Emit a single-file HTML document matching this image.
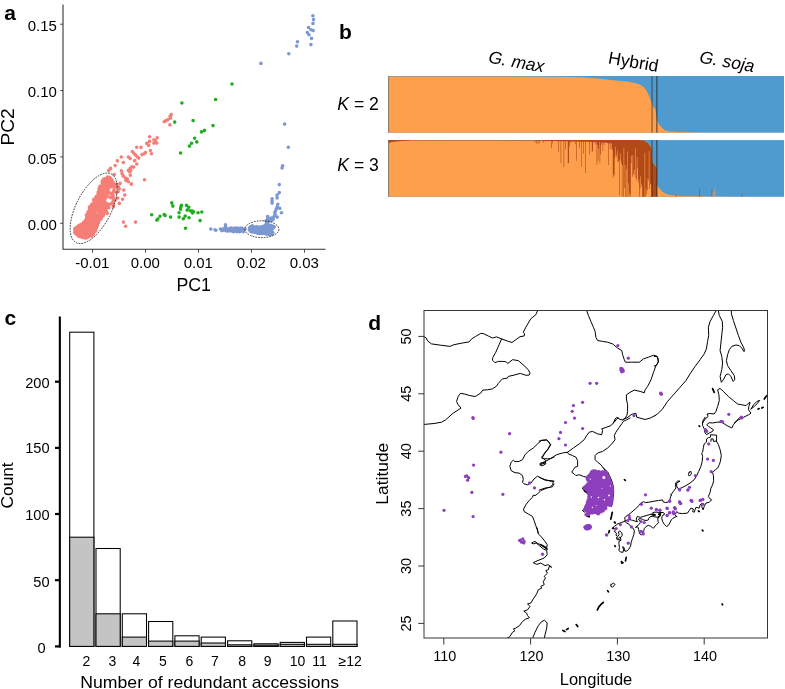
<!DOCTYPE html>
<html lang="en"><head><meta charset="utf-8"><title>Figure</title>
<style>html,body{margin:0;padding:0;background:#fff}body{width:785px;height:689px;overflow:hidden}svg{display:block}text{font-family:"Liberation Sans", sans-serif;fill:#000}</style>
</head><body>
<svg width="785" height="689" viewBox="0 0 785 689">
<rect width="785" height="689" fill="#fff"/>
<g id="panel-a">
<text x="4.3" y="20.2" font-size="21" font-weight="bold">a</text>
<path d="M63.0 4.4V249.3H325.5" fill="none" stroke="#333" stroke-width="1.1"/>
<path d="M60.2 223.3H63" stroke="#333" stroke-width="0.9"/>
<text x="56.9" y="229.9" font-size="15" text-anchor="end">0.00</text>
<path d="M60.2 156.9H63" stroke="#333" stroke-width="0.9"/>
<text x="56.9" y="163.5" font-size="15" text-anchor="end">0.05</text>
<path d="M60.2 90.6H63" stroke="#333" stroke-width="0.9"/>
<text x="56.9" y="97.2" font-size="15" text-anchor="end">0.10</text>
<path d="M60.2 24.2H63" stroke="#333" stroke-width="0.9"/>
<text x="56.9" y="30.8" font-size="15" text-anchor="end">0.15</text>
<path d="M92.5 249.3V252.7" stroke="#333" stroke-width="0.9"/>
<text x="92.3" y="267.5" font-size="15" text-anchor="middle">-0.01</text>
<path d="M145.5 249.3V252.7" stroke="#333" stroke-width="0.9"/>
<text x="145.3" y="267.5" font-size="15" text-anchor="middle">0.00</text>
<path d="M198.5 249.3V252.7" stroke="#333" stroke-width="0.9"/>
<text x="198.3" y="267.5" font-size="15" text-anchor="middle">0.01</text>
<path d="M251.5 249.3V252.7" stroke="#333" stroke-width="0.9"/>
<text x="251.3" y="267.5" font-size="15" text-anchor="middle">0.02</text>
<path d="M304.5 249.3V252.7" stroke="#333" stroke-width="0.9"/>
<text x="304.3" y="267.5" font-size="15" text-anchor="middle">0.03</text>
<text x="193.7" y="291.3" font-size="17.8" text-anchor="middle">PC1</text>
<text transform="translate(14.0 126.9) rotate(-90)" font-size="19.2" text-anchor="middle">PC2</text>
<path d="M94.9 199.3h0M90.7 227.8h0M96.4 201.2h0M111.6 179.6h0M107.1 194.6h0M86.3 227.1h0M98.8 199.7h0M100.4 203.1h0M94.5 230.8h0M102.2 194.5h0M90.4 223.5h0M103.5 212.1h0M100.9 213.4h0M96.6 204.9h0M92.6 217.7h0M105.7 194.3h0M89.2 218.0h0M89.4 230.5h0M95.4 231.3h0M88.2 231.3h0M88.6 211.7h0M94.1 214.9h0M75.6 230.7h0M92.2 206.6h0M106.0 186.7h0M94.8 224.8h0M103.0 206.2h0M81.4 225.4h0M87.2 226.2h0M89.8 235.2h0M102.0 187.2h0M80.1 227.8h0M91.0 230.5h0M105.9 189.8h0M79.6 232.9h0M90.5 233.4h0M93.6 209.6h0M102.1 211.1h0M95.6 225.1h0M103.8 208.1h0M95.9 223.7h0M97.8 207.9h0M94.0 219.5h0M91.7 209.7h0M92.7 234.9h0M106.4 185.2h0M82.9 235.5h0M89.7 206.8h0M95.6 203.9h0M98.2 208.4h0M90.6 233.0h0M105.6 192.7h0M80.3 233.5h0M96.2 220.0h0M100.7 203.0h0M77.3 234.7h0M77.8 229.6h0M77.1 230.0h0M103.4 194.6h0M102.4 210.8h0M110.0 183.3h0M93.3 228.3h0M89.5 208.0h0M87.6 228.1h0M101.4 216.0h0M77.8 228.7h0M84.6 236.1h0M83.9 236.3h0M92.6 207.8h0M96.8 209.4h0M102.0 216.4h0M76.3 228.3h0M93.7 228.3h0M100.5 219.5h0M78.6 228.3h0M95.7 215.5h0M98.3 218.8h0M93.6 209.8h0M102.5 192.3h0M102.2 189.4h0M92.7 218.9h0M103.6 214.8h0M102.7 195.5h0M100.0 219.5h0M100.2 194.7h0M94.2 205.4h0M108.4 189.0h0M82.5 235.1h0M110.7 184.9h0M105.6 208.1h0M83.4 232.2h0M86.6 228.6h0M106.4 184.2h0M78.5 228.3h0M85.4 234.5h0M88.7 235.8h0M102.3 204.6h0M109.7 184.6h0M85.9 222.4h0M99.4 195.3h0M95.7 201.1h0M82.5 232.7h0M103.0 202.2h0M90.3 209.1h0M111.2 184.5h0M93.7 215.6h0M107.3 190.1h0M107.6 178.1h0M89.4 233.9h0M94.4 218.8h0M91.9 210.8h0M83.4 233.5h0M99.0 195.5h0M98.7 219.9h0M94.5 212.7h0M93.5 218.4h0M100.4 189.0h0M105.6 191.0h0M83.0 223.7h0M85.8 235.5h0M82.7 236.9h0M81.6 234.5h0M99.8 200.1h0M110.8 184.4h0M88.1 227.5h0M88.7 233.5h0M108.6 178.6h0M90.2 226.8h0M103.6 179.3h0M110.3 178.2h0M90.9 207.2h0M97.6 197.0h0M104.2 181.6h0M86.9 237.2h0M101.5 204.3h0M98.1 218.3h0M106.4 194.9h0M96.1 199.8h0M102.5 189.0h0M80.4 231.3h0M96.5 196.9h0M92.6 227.3h0M84.4 224.7h0M110.4 183.3h0M97.2 215.0h0M99.3 189.3h0M100.3 188.2h0M104.7 210.6h0M89.6 210.7h0M86.2 235.6h0M102.2 189.3h0M74.8 232.4h0M90.6 227.4h0M90.0 231.2h0M105.8 186.6h0M104.3 190.4h0M89.9 229.0h0M106.0 188.0h0M94.2 200.4h0M106.3 184.0h0M97.3 210.7h0M98.3 195.6h0M90.5 212.7h0M90.7 217.4h0M93.7 200.1h0M110.6 185.1h0M81.9 237.3h0M109.3 186.9h0M103.2 186.5h0M105.5 185.6h0M93.6 233.5h0M80.7 234.5h0M81.0 225.2h0M98.7 198.9h0M98.4 201.1h0M104.8 193.1h0M88.2 223.9h0M105.6 192.4h0M96.8 217.7h0M97.9 203.4h0M94.0 232.0h0M98.2 206.1h0M79.7 234.6h0M95.9 198.4h0M99.0 204.1h0M84.0 232.5h0M110.2 185.5h0M93.8 216.3h0M105.4 187.5h0M76.4 231.6h0M74.8 228.9h0M102.8 205.5h0M102.7 204.7h0M87.3 223.0h0M101.5 193.2h0M95.6 203.7h0M104.4 209.0h0M107.9 177.7h0M102.8 196.9h0M83.7 232.8h0M98.5 219.5h0M92.4 228.6h0M91.2 221.5h0M77.6 233.0h0M78.6 234.1h0M100.8 215.9h0M88.4 227.2h0M77.1 230.3h0M98.5 194.5h0M103.3 189.4h0M85.3 220.9h0M91.1 224.5h0M87.7 220.2h0M107.2 182.4h0M105.6 187.3h0M93.2 225.9h0M87.7 228.1h0M84.5 235.0h0M101.1 207.5h0M98.4 198.7h0M108.3 182.1h0M108.2 178.3h0M89.0 231.3h0M94.7 223.3h0M80.5 228.8h0M103.9 212.5h0M108.1 191.4h0M78.5 236.1h0M102.4 203.6h0M89.7 225.6h0M100.9 207.6h0M98.5 205.3h0M89.9 222.5h0M96.3 223.0h0M98.9 204.8h0M86.5 215.5h0M98.4 192.2h0M98.1 202.0h0M104.1 200.7h0M80.7 225.0h0M95.1 221.0h0M94.0 216.2h0M106.0 208.9h0M90.1 235.3h0M89.5 223.8h0M90.5 219.8h0M82.9 226.2h0M92.4 211.4h0M83.2 236.2h0M88.0 216.2h0M106.8 193.2h0M90.8 216.1h0M99.6 199.1h0M76.8 227.8h0M79.9 228.1h0M99.4 192.2h0M83.5 224.7h0M81.0 231.7h0M97.6 225.0h0M94.7 222.5h0M91.2 231.2h0M93.2 207.5h0M95.0 230.0h0M74.9 228.6h0M92.3 211.5h0M111.0 181.4h0M98.7 216.0h0M87.1 237.3h0M93.9 206.7h0M108.6 178.8h0M101.8 215.3h0M87.4 229.9h0M94.5 224.3h0M90.6 210.9h0M105.9 194.8h0M97.9 215.4h0M101.0 213.5h0M100.4 189.9h0M99.9 205.0h0M103.5 183.0h0M99.4 199.5h0M99.0 189.8h0M79.2 236.4h0M77.9 230.4h0M101.8 191.7h0M102.4 188.3h0M102.2 181.9h0M98.4 220.5h0M92.0 234.3h0M84.2 236.3h0M105.5 181.7h0M86.4 221.8h0M80.9 229.9h0M88.5 212.2h0M91.2 218.5h0M80.1 226.0h0M88.4 216.5h0M98.4 202.5h0M89.2 225.3h0M87.2 214.1h0M97.4 195.8h0M90.8 231.6h0M88.9 219.0h0M105.2 194.2h0M90.6 213.0h0M76.2 228.2h0M95.6 226.0h0M97.6 218.6h0M84.2 223.1h0M104.6 205.1h0M77.9 226.5h0M103.8 191.1h0M92.6 213.1h0M88.3 211.6h0M89.8 208.7h0M104.4 186.4h0M97.2 198.0h0M104.1 203.0h0M95.7 230.5h0M92.0 235.2h0M109.0 180.7h0M97.2 201.3h0M79.1 236.0h0M100.0 201.0h0M106.3 179.6h0M100.2 195.2h0M97.0 223.5h0M101.8 188.8h0M76.0 234.0h0M83.0 234.4h0M78.3 234.1h0M101.6 210.9h0M80.1 230.5h0M86.6 232.5h0M76.8 232.0h0M99.9 189.8h0M108.5 180.3h0M102.1 194.9h0M105.2 197.8h0M81.4 224.3h0M101.5 188.9h0M97.6 207.3h0M97.8 220.4h0M102.3 201.9h0M105.3 197.4h0M107.6 193.2h0M81.6 228.1h0M88.7 213.5h0M91.5 208.6h0M86.8 220.6h0M89.0 223.1h0M76.9 230.6h0M94.0 209.5h0M84.1 227.2h0M101.1 188.8h0M96.4 209.0h0M93.3 207.6h0M102.9 186.9h0M89.6 234.8h0M104.0 197.6h0M98.6 199.2h0M91.0 207.9h0M108.1 178.9h0M98.9 193.1h0M100.3 193.6h0M98.1 192.2h0M94.3 203.5h0M96.2 216.9h0M92.1 210.6h0M97.8 205.7h0M89.1 212.9h0M107.2 191.5h0M95.7 207.1h0M85.4 237.7h0M85.8 224.4h0M91.3 222.1h0M87.9 218.4h0M105.7 208.7h0M103.4 206.1h0M109.2 184.6h0M107.6 177.0h0M103.6 212.9h0M96.3 202.5h0M97.6 200.2h0M91.7 205.0h0M102.0 194.8h0M89.4 211.0h0M93.5 204.1h0M90.7 232.9h0M96.0 207.4h0M94.2 208.7h0M100.5 200.8h0M88.1 213.4h0M87.9 235.2h0M100.2 209.2h0M89.8 211.4h0M91.3 215.3h0M94.7 227.1h0M94.0 207.9h0M98.5 214.0h0M90.2 225.4h0M86.2 219.4h0M99.9 188.9h0M93.4 210.9h0M96.3 202.1h0M103.4 183.3h0M94.4 227.5h0M103.8 196.7h0M101.7 198.6h0M78.4 232.5h0M96.6 198.3h0M76.7 231.7h0M91.2 215.0h0M86.5 232.2h0M105.5 195.5h0M101.8 190.4h0M86.3 230.8h0M92.9 225.7h0M94.8 200.5h0M79.3 227.7h0M99.7 197.8h0M106.2 184.6h0M91.4 228.4h0M105.1 186.6h0M88.0 221.3h0M88.9 235.9h0M82.5 235.4h0M101.3 192.8h0M107.6 184.3h0M94.0 210.2h0M84.8 224.4h0M89.2 217.3h0M81.3 229.3h0M86.8 217.6h0M99.7 198.4h0M90.2 217.4h0M101.1 192.1h0M79.0 233.1h0M101.7 192.5h0M91.1 219.0h0M78.8 225.6h0M82.6 233.2h0M103.0 182.1h0M100.9 201.0h0M98.4 204.7h0M90.8 208.3h0M109.7 184.6h0M103.4 179.4h0M101.4 218.1h0M94.1 204.2h0M85.9 231.3h0M87.2 227.1h0M95.4 223.7h0M97.3 205.2h0M99.3 192.3h0M106.4 195.0h0M81.0 225.2h0M105.8 196.5h0M88.6 228.1h0M96.1 215.5h0M93.3 207.6h0M100.6 186.8h0M104.4 203.0h0M94.1 202.7h0M108.8 186.9h0M95.9 198.2h0M105.3 180.4h0M100.2 214.3h0M99.1 195.2h0M87.6 231.4h0M100.3 204.4h0M88.7 212.6h0M90.4 209.5h0M96.0 201.2h0M78.9 230.0h0M93.1 210.9h0M91.2 230.0h0M95.4 220.8h0M103.3 183.8h0M78.5 228.0h0M103.9 185.2h0M104.0 180.3h0M101.4 203.0h0M87.5 223.9h0M95.4 226.3h0M78.9 233.9h0M100.2 192.5h0M78.8 226.2h0M93.6 230.6h0M104.9 178.9h0M81.5 227.2h0M100.3 201.0h0M82.8 231.9h0M92.3 212.4h0M100.0 193.6h0M95.8 224.3h0M98.6 215.9h0M86.1 223.9h0M102.6 208.2h0M98.6 198.4h0M95.5 201.8h0M86.8 237.7h0M74.9 230.5h0M91.8 204.2h0M102.1 210.8h0M88.1 224.5h0M90.8 230.3h0M101.3 190.2h0M99.1 188.9h0M87.0 223.0h0M99.2 201.8h0M100.3 197.6h0M112.0 180.2h0M97.8 221.4h0M103.6 182.3h0M95.0 213.1h0M95.6 217.3h0M97.4 197.2h0M102.7 192.7h0M104.0 195.8h0M92.6 217.2h0M103.9 199.1h0M103.2 182.3h0M104.1 191.7h0M98.7 198.0h0M104.9 205.1h0M86.9 232.5h0M89.8 230.1h0M90.1 233.5h0M85.9 238.1h0M80.5 230.0h0M107.5 193.2h0M93.0 231.7h0M97.2 204.7h0M82.5 231.3h0M88.2 224.9h0M107.3 188.0h0M87.5 233.4h0M83.5 225.6h0M86.6 231.0h0M82.8 236.5h0M90.1 211.1h0M100.7 217.1h0M95.2 210.6h0M109.0 179.8h0M100.9 196.8h0M99.1 210.6h0M86.6 236.7h0M102.7 200.1h0M101.6 201.0h0M94.5 214.6h0M100.2 196.6h0M98.4 210.3h0M84.6 232.8h0M92.5 221.3h0M94.4 206.2h0M94.4 209.3h0M105.4 191.5h0M81.1 227.5h0M92.0 216.3h0M107.4 179.4h0M89.0 228.1h0M105.6 184.3h0M105.0 208.9h0M100.9 204.5h0M92.7 226.0h0M103.3 186.0h0M100.3 199.4h0M101.8 193.7h0M106.2 182.4h0M101.6 195.0h0M90.0 216.7h0M105.3 198.5h0M89.2 212.5h0M88.7 217.8h0M103.2 200.2h0M94.5 207.4h0M92.1 205.3h0M92.5 231.7h0M91.3 207.1h0M94.0 227.6h0M100.3 210.9h0M77.5 227.2h0M103.1 211.6h0M101.5 206.5h0M90.4 212.8h0M107.6 185.7h0M93.9 202.7h0M107.0 192.6h0M94.9 199.8h0M92.2 206.9h0M96.7 199.3h0M104.9 189.1h0M94.8 202.0h0M96.0 196.7h0M85.0 225.9h0M85.6 220.6h0M91.8 234.4h0M91.4 230.9h0M107.3 181.2h0M104.9 207.5h0M100.1 218.4h0M106.3 185.7h0M90.3 217.4h0M84.4 232.7h0M100.6 186.3h0M76.2 228.3h0M96.6 196.4h0M106.4 186.1h0M89.0 216.3h0M102.2 203.3h0M106.0 184.3h0M103.0 207.4h0M109.8 182.5h0M93.0 230.1h0M97.2 210.1h0M84.9 231.9h0M106.6 190.8h0M109.6 178.7h0M87.6 235.0h0M84.0 222.6h0M81.4 225.4h0M95.5 225.4h0M97.1 205.2h0M99.7 186.9h0M81.0 234.9h0M87.2 228.7h0M107.9 184.0h0M93.4 209.8h0M93.8 199.4h0M83.7 230.5h0M93.6 231.7h0M93.1 225.6h0M96.2 219.3h0M83.3 223.0h0M108.3 181.9h0M97.1 225.1h0M98.0 219.4h0M105.4 197.9h0M105.3 205.2h0M109.5 177.4h0M83.9 222.0h0M100.3 186.1h0M87.1 237.0h0M92.8 207.4h0M103.0 216.0h0M102.8 185.1h0M97.0 203.6h0M110.4 183.9h0M84.1 228.5h0M93.3 232.8h0M89.4 225.1h0M87.5 213.5h0M105.4 202.6h0M97.5 205.0h0M88.0 228.9h0M98.0 194.8h0M101.1 204.0h0M76.2 227.5h0M83.1 231.7h0M89.5 207.6h0M106.0 186.8h0M81.2 235.1h0M91.8 226.7h0M88.9 234.1h0M91.4 235.9h0M88.3 217.6h0M98.5 199.9h0M94.4 218.5h0M88.4 237.0h0M76.8 228.3h0M100.5 211.1h0M91.6 223.1h0M89.5 222.9h0M98.9 194.1h0M103.5 194.7h0M95.2 202.7h0M89.0 236.2h0M96.4 227.7h0M104.6 198.2h0M107.8 186.7h0M102.6 187.3h0M82.3 232.8h0M91.6 228.4h0M103.3 205.8h0M95.8 218.1h0M103.1 193.7h0M88.3 233.4h0M98.5 192.8h0M103.8 179.3h0M88.0 234.8h0M90.2 226.6h0M98.6 219.5h0M103.9 201.1h0M105.1 198.3h0M81.6 230.5h0M94.7 208.9h0M93.6 229.3h0M99.9 212.4h0M89.9 212.2h0M85.0 228.9h0M103.1 207.6h0M101.2 214.5h0M105.0 198.9h0M106.3 196.8h0M95.6 226.6h0M76.1 227.8h0M98.4 197.7h0M82.9 225.7h0M82.5 228.6h0M105.2 209.9h0M98.5 221.5h0M96.7 201.4h0M94.0 213.1h0M83.2 230.3h0M111.9 181.1h0M91.8 218.9h0M101.4 204.8h0M94.1 203.8h0M95.8 220.0h0M75.1 230.0h0M101.9 215.6h0M88.1 232.2h0M105.1 204.8h0M80.4 224.7h0M92.6 227.5h0M95.9 208.1h0M75.4 232.8h0M102.3 200.5h0M92.9 216.2h0M91.9 212.9h0M98.7 220.4h0M100.8 205.9h0M80.0 232.8h0M83.6 237.7h0M98.6 222.5h0M83.7 234.2h0M103.3 183.1h0M81.7 226.6h0M95.6 227.4h0M93.6 215.0h0M97.1 226.1h0M99.2 189.5h0M106.7 183.0h0M103.5 185.9h0M100.8 213.7h0M94.3 204.9h0M90.0 214.5h0M90.9 230.9h0M81.4 234.9h0M91.3 220.3h0M103.1 193.7h0M87.0 224.3h0M104.7 209.6h0M78.6 227.7h0M86.5 215.4h0M94.7 216.9h0M90.0 233.1h0M85.5 232.7h0M100.6 219.4h0M97.0 217.2h0M97.2 219.6h0M85.0 224.2h0M100.7 204.2h0M102.2 182.6h0M106.1 178.6h0M106.0 190.7h0M100.0 193.9h0M108.9 186.5h0M99.6 213.0h0M99.6 187.9h0M99.3 211.9h0M75.2 229.4h0M79.5 236.2h0M88.4 221.3h0M79.8 225.4h0M84.0 225.9h0M103.6 190.6h0M98.9 205.9h0M107.5 179.9h0M92.0 220.7h0M102.8 211.5h0M107.1 183.5h0M107.3 189.9h0M102.3 181.3h0M99.3 208.5h0M102.6 209.9h0M97.5 216.9h0M80.1 226.3h0M108.8 188.0h0M108.7 181.8h0M89.8 218.7h0M106.2 189.2h0M83.2 236.1h0M87.6 218.0h0M80.7 227.8h0M95.9 220.7h0M79.2 236.0h0M94.4 212.6h0M108.2 180.3h0M112.4 194.4h0M116.5 187.1h0M116.4 192.6h0M110.6 197.4h0M113.2 196.8h0M113.2 199.7h0M116.6 184.1h0M106.8 212.0h0M112.3 183.7h0M113.6 186.6h0M111.8 203.3h0M106.8 205.8h0M112.9 195.1h0M113.5 204.5h0M113.1 183.6h0M116.5 184.7h0M115.9 185.7h0M114.1 190.7h0M113.3 206.8h0M110.5 193.1h0M109.9 204.3h0M110.8 183.4h0M113.4 182.9h0M113.1 201.6h0M108.2 206.8h0M115.0 200.2h0M112.5 184.3h0M114.0 187.3h0M107.9 204.0h0M108.9 204.6h0M107.3 213.4h0M109.7 197.1h0M109.5 193.0h0M111.3 186.7h0M112.9 204.0h0M108.9 207.8h0M114.0 190.0h0M111.4 183.9h0M113.6 191.7h0M113.9 185.6h0M108.1 204.5h0M113.3 198.8h0M171.2 114.6h0M170.1 116.4h0M170.6 117.9h0M168.1 119.6h0M165.9 120.6h0M164.2 121.7h0M169.9 124.9h0M149.5 136.8h0M157.2 137.8h0M153.9 139.8h0M155.4 140.9h0M149.5 141.4h0M156.7 143.1h0M153.9 143.1h0M146.7 143.4h0M148.7 145.4h0M136.7 147.3h0M141.0 147.4h0M150.4 150.5h0M132.3 151.5h0M145.5 152.6h0M133.7 153.1h0M151.4 153.8h0M142.0 154.6h0M144.2 153.8h0M135.5 155.1h0M137.5 157.1h0M138.7 158.1h0M134.5 160.8h0M136.7 164.0h0M131.7 166.8h0M133.7 167.1h0M130.8 170.2h0M130.3 175.2h0M144.5 179.8h0M131.3 184.2h0M121.3 157.0h0M128.4 157.0h0M130.1 158.4h0M134.8 160.5h0M117.3 160.9h0M123.4 162.5h0M115.1 165.6h0M110.6 168.4h0M130.1 168.4h0M128.4 170.4h0M108.7 170.4h0M121.4 170.9h0M129.8 172.0h0M122.1 173.7h0M114.3 174.6h0M123.1 175.9h0M125.4 178.0h0M127.3 178.7h0M125.9 180.4h0M128.4 181.7h0M131.5 183.9h0M120.1 183.4h0M118.4 186.8h0M119.3 188.8h0M123.8 190.1h0M118.1 191.8h0M124.8 195.1h0M117.6 198.1h0M122.6 199.3h0M119.3 203.4h0M123.4 222.1h0M125.6 226.3h0M135.5 222.1h0" stroke="#f57f77" stroke-width="3.60" stroke-linecap="round" fill="none"/>
<path d="M232.0 84.0h0M215.6 99.5h0M181.9 103.0h0M193.1 120.6h0M174.7 122.1h0M213.0 125.6h0M204.5 130.4h0M201.5 131.9h0M194.6 138.3h0M196.8 141.9h0M191.6 143.3h0M189.4 146.1h0M180.6 153.0h0M171.8 202.9h0M172.9 206.1h0M181.4 205.4h0M180.8 207.3h0M180.5 209.2h0M186.5 205.4h0M188.8 207.3h0M187.1 210.1h0M190.3 210.8h0M192.2 211.0h0M193.5 211.8h0M192.5 212.9h0M198.0 212.7h0M201.8 212.0h0M179.1 212.7h0M151.7 214.8h0M164.2 214.6h0M165.1 215.6h0M160.0 216.2h0M170.6 217.1h0M179.1 217.1h0M185.2 216.1h0M189.0 217.8h0M183.3 218.8h0M157.8 219.0h0M156.9 220.1h0M200.1 220.6h0M185.5 228.3h0" stroke="#1fae1f" stroke-width="3.60" stroke-linecap="round" fill="none"/>
<path d="M225.7 228.4h0M236.2 228.1h0M237.4 228.7h0M228.6 229.5h0M235.0 230.8h0M227.7 228.9h0M237.5 230.6h0M236.9 231.6h0M227.3 229.0h0M238.1 228.7h0M226.2 228.6h0M240.6 231.2h0M239.3 231.8h0M241.2 229.0h0M229.9 230.8h0M223.8 230.3h0M234.6 228.3h0M233.4 228.5h0M225.3 229.8h0M234.8 229.2h0M239.3 229.9h0M240.7 228.1h0M224.1 229.3h0M233.9 228.7h0M238.2 228.6h0M230.0 229.7h0M239.2 231.0h0M231.2 229.6h0M237.0 228.1h0M233.2 230.4h0M225.5 229.6h0M237.1 228.9h0M240.6 229.5h0M224.5 229.3h0M223.7 228.9h0M240.5 228.2h0M226.4 229.9h0M242.1 228.3h0M226.6 231.0h0M232.5 229.1h0M225.4 228.7h0M228.6 230.9h0M243.5 231.6h0M233.6 231.8h0M236.7 228.9h0M233.4 230.8h0M239.7 228.2h0M230.5 228.7h0M228.5 229.7h0M242.6 229.0h0M226.6 230.9h0M230.5 228.4h0M232.3 231.2h0M242.8 230.1h0M236.8 231.6h0M244.9 229.0h0M242.4 231.2h0M228.8 229.2h0M231.3 229.2h0M231.4 228.1h0M259.1 230.4h0M271.4 231.8h0M269.2 234.5h0M267.3 231.8h0M269.5 226.0h0M265.4 227.5h0M262.4 227.0h0M269.7 227.1h0M270.3 232.9h0M266.0 230.6h0M262.6 228.4h0M257.3 232.1h0M268.7 233.1h0M254.0 227.0h0M269.1 225.7h0M267.6 225.4h0M260.4 227.8h0M269.2 234.1h0M256.5 230.4h0M271.6 228.5h0M271.7 231.6h0M263.7 232.7h0M261.9 228.7h0M259.3 233.2h0M265.7 225.5h0M257.9 227.3h0M249.4 229.9h0M259.7 231.4h0M262.0 232.6h0M268.9 227.2h0M254.3 231.7h0M269.2 225.7h0M259.7 227.5h0M266.8 233.8h0M257.0 231.5h0M253.3 229.4h0M261.4 230.8h0M269.0 225.2h0M268.1 233.1h0M261.5 233.4h0M271.7 234.1h0M264.8 232.4h0M259.4 230.0h0M259.4 229.0h0M267.0 231.7h0M264.1 233.5h0M253.7 229.9h0M267.1 231.7h0M266.9 231.3h0M272.9 228.2h0M269.1 230.9h0M252.2 228.4h0M257.2 231.9h0M252.7 227.8h0M264.5 226.6h0M256.7 228.9h0M253.3 228.6h0M266.6 234.2h0M258.9 227.2h0M259.5 227.2h0M266.3 227.6h0M270.4 231.5h0M257.7 230.4h0M272.2 227.8h0M262.8 230.7h0M267.5 234.0h0M252.3 227.3h0M270.5 232.2h0M263.7 230.9h0M262.7 227.8h0M271.7 232.3h0M260.9 228.8h0M257.5 229.2h0M258.5 230.1h0M268.8 226.1h0M258.1 227.6h0M257.1 232.6h0M252.7 231.1h0M252.3 225.8h0M267.4 231.4h0M272.0 234.0h0M267.8 233.0h0M271.0 231.8h0M266.8 230.4h0M253.2 230.1h0M259.7 227.6h0M266.7 225.2h0M257.6 231.6h0M250.0 229.2h0M259.9 232.2h0M263.4 228.3h0M271.2 230.0h0M257.2 227.7h0M272.8 233.0h0M258.4 231.1h0M268.8 229.0h0M259.2 230.8h0M263.2 231.5h0M264.4 226.8h0M271.8 232.2h0M268.8 232.6h0M256.7 231.8h0M255.3 230.1h0M252.4 231.9h0M263.6 228.0h0M271.0 228.2h0M267.2 226.1h0M267.3 230.6h0M251.0 228.8h0M267.1 225.6h0M265.4 226.3h0M259.5 229.7h0M269.4 231.8h0M260.3 233.0h0M267.8 224.8h0M267.6 224.6h0M264.9 227.5h0M254.9 232.5h0M249.4 228.6h0M260.5 228.5h0M267.0 231.5h0M253.3 228.9h0M272.5 228.6h0M268.8 226.0h0M272.0 225.7h0M264.8 229.3h0M270.6 228.2h0M269.3 231.0h0M267.7 225.8h0M260.5 232.6h0M252.7 231.0h0M262.8 227.8h0M260.6 228.8h0M255.4 227.4h0M262.8 231.9h0M271.4 227.4h0M252.1 229.8h0M273.4 227.6h0M262.6 226.7h0M251.7 226.4h0M264.7 229.6h0M264.9 229.4h0M270.8 230.8h0M257.8 230.1h0M270.1 230.8h0M266.2 233.8h0M249.8 228.0h0M273.5 226.7h0M259.2 233.5h0M263.7 232.6h0M273.4 227.8h0M266.5 223.9h0M269.9 234.4h0M251.4 231.7h0M257.9 230.7h0M265.4 225.0h0M267.2 229.5h0M263.7 232.3h0M252.6 228.9h0M263.3 229.6h0M259.2 229.4h0M268.0 225.9h0M269.8 225.9h0M250.9 228.6h0M268.2 225.7h0M265.8 232.7h0M260.2 228.9h0M250.6 226.9h0M250.8 230.6h0M256.4 226.9h0M270.4 230.6h0M252.6 230.3h0M250.0 229.0h0M267.7 231.4h0M265.8 228.1h0M254.3 227.7h0M265.8 225.7h0M258.8 231.0h0M250.3 229.4h0M251.1 228.9h0M265.8 228.8h0M269.4 226.5h0M272.6 232.5h0M266.2 231.1h0M263.5 231.4h0M257.5 231.1h0M258.0 231.3h0M250.9 231.5h0M270.8 230.4h0M267.0 224.5h0M258.3 230.8h0M257.6 233.2h0M274.2 226.8h0M271.9 232.2h0M270.8 229.9h0M253.6 229.1h0M261.0 227.0h0M258.2 229.0h0M255.7 228.9h0M261.5 227.9h0M265.6 225.3h0M268.4 231.2h0M268.7 229.1h0M261.7 227.4h0M256.0 227.8h0M266.8 232.5h0M261.0 231.5h0M254.0 228.3h0M257.8 231.8h0M267.4 225.5h0M254.5 232.1h0M265.4 230.9h0M264.9 231.1h0M269.3 225.8h0M269.0 231.6h0M261.1 227.4h0M255.5 228.7h0M266.9 233.4h0M270.4 233.1h0M259.8 228.0h0M270.5 226.9h0M270.5 233.4h0M268.4 227.4h0M259.8 227.7h0M263.9 226.1h0M258.1 231.9h0M257.1 230.9h0M264.3 226.5h0M272.0 225.8h0M263.6 229.7h0M256.9 230.5h0M264.0 229.0h0M256.5 227.9h0M254.8 229.9h0M269.0 232.4h0M255.5 232.0h0M249.9 227.5h0M254.4 230.3h0M268.6 232.8h0M262.7 227.6h0M255.2 231.8h0M250.9 228.4h0M258.0 228.1h0M266.6 229.1h0M261.7 228.8h0M258.1 233.0h0M257.7 227.0h0M264.4 229.6h0M273.1 227.4h0M251.5 230.7h0M262.2 226.9h0M257.0 232.8h0M257.2 227.9h0M273.2 227.3h0M265.6 230.8h0M260.0 227.8h0M254.5 232.2h0M260.3 232.7h0M258.2 231.6h0M265.9 228.8h0M253.0 230.5h0M266.4 226.1h0M261.0 230.2h0M252.0 226.7h0M266.0 229.4h0M264.4 232.1h0M259.9 232.7h0M263.1 231.8h0M257.9 228.3h0M267.3 226.2h0M270.3 225.2h0M269.9 229.1h0M259.9 232.7h0M266.3 229.3h0M270.7 225.5h0M271.7 227.0h0M252.6 226.5h0M271.9 233.1h0M269.0 226.4h0M272.4 232.4h0M267.4 225.8h0M262.8 230.2h0M266.5 228.5h0M268.8 228.4h0M255.8 231.7h0M269.9 226.0h0M266.4 227.7h0M273.1 227.4h0M261.7 228.9h0M267.7 233.2h0M257.5 231.5h0M265.5 227.8h0M272.2 228.6h0M261.6 232.2h0M253.6 231.4h0M257.6 232.5h0M264.9 228.7h0M258.2 229.8h0M254.1 228.2h0M262.8 230.0h0M268.6 226.5h0M270.8 232.2h0M266.0 232.5h0M259.8 230.9h0M251.1 227.9h0M253.2 229.8h0M253.4 228.6h0M262.4 228.2h0M261.5 232.7h0M268.3 229.7h0M268.7 226.7h0M267.3 225.8h0M263.3 230.6h0M258.1 228.6h0M250.2 230.5h0M266.3 224.9h0M262.7 231.6h0M256.3 228.4h0M258.1 232.2h0M267.1 224.5h0M266.5 232.1h0M261.7 228.2h0M259.8 232.0h0M269.9 228.6h0M253.1 227.8h0M271.5 227.8h0M265.6 229.6h0M260.4 229.7h0M254.8 229.5h0M258.0 233.2h0M312.9 15.7h0M313.5 19.5h0M313.0 23.4h0M308.5 27.5h0M311.0 29.7h0M313.2 30.6h0M307.3 32.6h0M309.0 34.7h0M311.5 38.4h0M297.5 41.7h0M296.7 46.1h0M310.9 44.6h0M288.8 53.8h0M260.9 63.4h0M284.6 124.1h0M288.3 147.3h0M282.6 165.9h0M282.1 168.0h0M279.3 184.6h0M279.3 192.6h0M277.1 195.1h0M277.1 197.9h0M272.1 198.8h0M272.1 200.9h0M272.1 203.1h0M277.8 204.3h0M277.3 206.8h0M279.8 208.4h0M276.3 208.9h0M275.5 211.0h0M274.8 212.6h0M281.5 212.8h0M275.1 214.3h0M274.3 216.0h0M277.3 217.1h0M267.6 216.5h0M267.6 218.5h0M270.9 218.1h0M273.4 217.6h0M269.3 220.1h0M271.5 220.5h0M273.0 219.5h0M266.0 221.0h0M268.0 222.0h0M210.8 229.0h0M215.0 229.8h0M215.9 230.2h0M220.5 229.0h0M221.7 230.6h0M225.5 224.8h0M225.5 226.8h0" stroke="#7c98d2" stroke-width="3.60" stroke-linecap="round" fill="none"/>
<ellipse cx="93.7" cy="208.3" rx="38.6" ry="17.6" transform="rotate(-63 93.7 208.3)" fill="none" stroke="#111" stroke-width="0.75" stroke-dasharray="1.7 1.1"/>
<ellipse cx="261.9" cy="229.2" rx="17.0" ry="8.4" fill="none" stroke="#111" stroke-width="0.8" stroke-dasharray="1.7 1.1"/>
</g>
<g id="panel-b">
<text x="338.9" y="39.4" font-size="21" font-weight="bold">b</text>
<rect x="388.4" y="76.0" width="395.6" height="56.7" fill="#4f9bcf"/>
<path d="M388.4 132.7L388.4 76.5L500.0 76.5L560.0 76.7L573.4 76.9L586.8 77.6L600.1 78.7L613.5 80.3L626.9 81.6L634.9 83.0L640.3 84.7L644.3 87.4L646.9 91.4L648.9 95.4L651.0 100.8L652.0 103.4L653.6 107.4L655.0 108.3L656.3 114.8L657.4 120.8L659.0 124.2L661.7 127.5L665.0 130.6L670.0 131.5L680.0 131.9L700.0 132.4L706.0 132.7Z" fill="#fd9f4c"/>
<rect x="388.4" y="140.1" width="395.6" height="56.7" fill="#4f9bcf"/>
<path d="M388.4 196.8L388.4 140.1L645.0 140.7L652.0 140.7L656.9 168.1L656.9 184.1L658.5 187.1L661.5 191.1L665.0 193.6L670.0 195.1L680.0 195.9L700.0 196.3L720.0 196.6L745.0 196.8Z" fill="#fd9f4c"/>
<path d="M640 140.1L644.0 140.7L648.0 143.1L651.0 147.1L652.0 149.6L652.4 162.1L654.5 165.1L656.9 168.1L656.9 140.1Z" fill="#4f9bcf"/>
<path d="M388.40 140.10L388.40 143.10H389.00L389.00 142.87H389.60L389.60 142.64H390.20L390.20 142.41H390.80L390.80 142.18H391.40L391.40 142.04H392.00L392.00 141.96H392.60L392.60 141.88H393.20L393.20 141.79H393.80L393.80 141.71H394.40L394.40 141.62H395.00L395.00 141.54H395.60L395.60 141.46H396.20L396.20 141.39H396.80L396.80 141.35H397.40L397.40 141.31H398.00L398.00 141.27H398.60L398.60 141.24H399.20L399.20 141.20H399.80L399.80 141.16H400.40L400.40 141.12H401.00L401.00 141.09H401.60L401.60 141.05H402.20L402.20 141.01H402.80L402.80 140.97H403.40L403.40 140.94H404.00L404.00 140.90H404.60L404.60 140.87H405.20L405.20 140.84H405.80L405.80 140.81H406.40L406.40 140.78H407.00L407.00 140.75H407.60L407.60 140.72H408.20L408.20 140.69H408.80L408.80 140.66H409.40L409.40 140.63H410.00L410.00 140.60H410.60L410.60 140.57H411.20L411.20 140.54H411.80L411.80 140.51H412.40L412.40 140.50H413.00L413.00 140.50H413.60L413.60 140.50H414.20L414.20 140.50H414.80L414.80 140.50H415.40L415.40 140.50H416.00L416.00 140.50H416.60L416.60 140.50H417.20L417.20 140.50H417.80L417.80 140.50H418.40L418.40 140.49H419.00L419.00 140.49H419.60L419.60 140.49H420.20L420.20 140.49H420.80L420.80 140.49H421.40L421.40 140.49H422.00L422.00 140.49H422.60L422.60 140.49H423.20L423.20 140.49H423.80L423.80 140.49H424.40L424.40 140.49H425.00L425.00 140.49H425.60L425.60 140.49H426.20L426.20 140.49H426.80L426.80 140.49H427.40L427.40 140.49H428.00L428.00 140.49H428.60L428.60 140.49H429.20L429.20 140.49H429.80L429.80 140.49H430.40L430.40 140.48H431.00L431.00 140.48H431.60L431.60 140.48H432.20L432.20 140.48H432.80L432.80 140.48H433.40L433.40 140.48H434.00L434.00 140.48H434.60L434.60 140.48H435.20L435.20 140.48H435.80L435.80 140.48H436.40L436.40 140.48H437.00L437.00 140.48H437.60L437.60 140.48H438.20L438.20 140.48H438.80L438.80 140.48H439.40L439.40 140.48H440.00L440.00 140.48H440.60L440.60 140.48H441.20L441.20 140.48H441.80L441.80 140.48H442.40L442.40 140.48H443.00L443.00 140.47H443.60L443.60 140.47H444.20L444.20 140.47H444.80L444.80 140.47H445.40L445.40 140.47H446.00L446.00 140.47H446.60L446.60 140.47H447.20L447.20 140.47H447.80L447.80 140.47H448.40L448.40 140.47H449.00L449.00 140.47H449.60L449.60 140.47H450.20L450.20 140.47H450.80L450.80 140.47H451.40L451.40 140.47H452.00L452.00 140.47H452.60L452.60 140.47H453.20L453.20 140.47H453.80L453.80 140.47H454.40L454.40 140.47H455.00L455.00 140.46H455.60L455.60 140.46H456.20L456.20 140.46H456.80L456.80 140.46H457.40L457.40 140.46H458.00L458.00 140.46H458.60L458.60 140.46H459.20L459.20 140.46H459.80L459.80 140.46H460.40L460.40 140.46H461.00L461.00 140.46H461.60L461.60 140.46H462.20L462.20 140.46H462.80L462.80 140.46H463.40L463.40 140.46H464.00L464.00 140.46H464.60L464.60 140.46H465.20L465.20 140.46H465.80L465.80 140.46H466.40L466.40 140.46H467.00L467.00 140.45H467.60L467.60 140.45H468.20L468.20 140.45H468.80L468.80 140.45H469.40L469.40 140.45H470.00L470.00 140.45H470.60L470.60 140.45H471.20L471.20 140.45H471.80L471.80 140.45H472.40L472.40 140.45H473.00L473.00 140.45H473.60L473.60 140.45H474.20L474.20 140.45H474.80L474.80 140.45H475.40L475.40 140.45H476.00L476.00 140.45H476.60L476.60 140.45H477.20L477.20 140.45H477.80L477.80 140.45H478.40L478.40 140.45H479.00L479.00 140.45H479.60L479.60 140.44H480.20L480.20 140.44H480.80L480.80 140.44H481.40L481.40 140.44H482.00L482.00 140.44H482.60L482.60 140.44H483.20L483.20 140.44H483.80L483.80 140.44H484.40L484.40 140.44H485.00L485.00 140.44H485.60L485.60 140.44H486.20L486.20 140.44H486.80L486.80 140.44H487.40L487.40 140.44H488.00L488.00 140.44H488.60L488.60 140.44H489.20L489.20 140.44H489.80L489.80 140.44H490.40L490.40 140.44H491.00L491.00 140.44H491.60L491.60 140.43H492.20L492.20 140.43H492.80L492.80 140.43H493.40L493.40 140.43H494.00L494.00 140.43H494.60L494.60 140.43H495.20L495.20 140.43H495.80L495.80 140.43H496.40L496.40 140.43H497.00L497.00 140.43H497.60L497.60 140.43H498.20L498.20 140.43H498.80L498.80 140.43H499.40L499.40 140.43H500.00L500.00 140.43H500.60L500.60 140.43H501.20L501.20 140.43H501.80L501.80 140.43H502.40L502.40 140.43H503.00L503.00 140.43H503.60L503.60 140.42H504.20L504.20 140.42H504.80L504.80 140.42H505.40L505.40 140.42H506.00L506.00 140.42H506.60L506.60 140.42H507.20L507.20 140.42H507.80L507.80 140.42H508.40L508.40 140.42H509.00L509.00 140.42H509.60L509.60 140.42H510.20L510.20 140.42H510.80L510.80 140.42H511.40L511.40 140.42H512.00L512.00 140.42H512.60L512.60 140.42H513.20L513.20 140.42H513.80L513.80 140.42H514.40L514.40 140.42H515.00L515.00 140.42H515.60L515.60 140.42H516.20L516.20 140.41H516.80L516.80 140.41H517.40L517.40 140.41H518.00L518.00 140.41H518.60L518.60 140.41H519.20L519.20 140.41H519.80L519.80 140.41H520.40L520.40 140.41H521.00L521.00 140.41H521.60L521.60 140.41H522.20L522.20 140.41H522.80L522.80 140.41H523.40L523.40 140.41H524.00L524.00 140.41H524.60L524.60 140.41H525.20L525.20 140.41H525.80L525.80 140.41H526.40L526.40 140.41H527.00L527.00 140.41H527.60L527.60 140.41H528.20L528.20 140.40H528.80L528.80 140.40H529.40L529.40 140.40H530.00L530.00 140.40H530.60L530.60 140.40H531.20L531.20 140.40H531.80L531.80 140.40H532.40L532.40 140.40H533.00L533.00 140.40H533.60L533.60 140.41H534.20L534.20 140.41H534.80L534.80 142.51H535.40L535.40 140.46H536.00L536.00 143.59H536.60L536.60 140.71H537.20L537.20 140.55H537.80L537.80 144.23H538.40L538.40 140.82H539.00L539.00 143.11H539.60L539.60 140.65H540.20L540.20 140.68H540.80L540.80 140.71H541.40L541.40 140.74H542.00L542.00 140.76H542.60L542.60 140.79H543.20L543.20 142.70H543.80L543.80 140.85H544.40L544.40 140.87H545.00L545.00 140.90H545.60L545.60 141.76H546.20L546.20 140.92H546.80L546.80 140.94H547.40L547.40 140.95H548.00L548.00 140.96H548.60L548.60 140.97H549.20L549.20 140.98H549.80L549.80 141.00H550.40L550.40 141.01H551.00L551.00 148.22H551.60L551.60 141.03H552.20L552.20 143.40H552.80L552.80 141.06H553.40L553.40 141.07H554.00L554.00 141.08H554.60L554.60 141.09H555.20L555.20 141.10H555.80L555.80 141.12H556.40L556.40 141.13H557.00L557.00 141.14H557.60L557.60 141.15H558.20L558.20 152.21H558.80L558.80 141.18H559.40L559.40 141.19H560.00L560.00 141.20H560.60L560.60 163.01H561.20L561.20 141.22H561.80L561.80 141.24H562.40L562.40 141.25H563.00L563.00 141.26H563.60L563.60 167.23H564.20L564.20 141.28H564.80L564.80 141.30H565.40L565.40 149.51H566.00L566.00 141.32H566.60L566.60 141.34H567.20L567.20 141.35H567.80L567.80 163.24H568.40L568.40 162.91H569.00L569.00 146.76H569.60L569.60 141.41H570.20L570.20 142.89H570.80L570.80 141.44H571.40L571.40 141.45H572.00L572.00 141.47H572.60L572.60 141.48H573.20L573.20 141.50H573.80L573.80 141.51H574.40L574.40 141.53H575.00L575.00 144.37H575.60L575.60 141.55H576.20L576.20 160.68H576.80L576.80 141.58H577.40L577.40 141.60H578.00L578.00 141.61H578.60L578.60 141.63H579.20L579.20 148.49H579.80L579.80 141.66H580.40L580.40 141.67H581.00L581.00 166.61H581.60L581.60 141.70H582.20L582.20 141.71H582.80L582.80 141.73H583.40L583.40 153.75H584.00L584.00 141.76H584.60L584.60 141.77H585.20L585.20 172.98H585.80L585.80 141.80H586.40L586.40 141.81H587.00L587.00 141.83H587.60L587.60 141.84H588.20L588.20 141.86H588.80L588.80 141.87H589.40L589.40 154.26H590.00L590.00 141.90H590.60L590.60 141.93H591.20L591.20 141.96H591.80L591.80 152.12H592.40L592.40 150.85H593.00L593.00 142.04H593.60L593.60 142.07H594.20L594.20 142.10H594.80L594.80 144.53H595.40L595.40 142.15H596.00L596.00 142.18H596.60L596.60 165.12H597.20L597.20 144.72H597.80L597.80 161.07H598.40L598.40 148.86H599.00L599.00 142.32H599.60L599.60 163.25H600.20L600.20 154.17H600.80L600.80 145.00H601.40L601.40 142.43H602.00L602.00 142.46H602.60L602.60 150.97H603.20L603.20 142.52H603.80L603.80 145.30H604.40L604.40 142.57H605.00L605.00 142.60H605.60L605.60 142.70H606.20L606.20 142.80H606.80L606.80 142.90H607.40L607.40 143.00H608.00L608.00 165.08H608.60L608.60 143.20H609.20L609.20 143.30H609.80L609.80 149.03H610.40L610.40 143.50H611.00L611.00 143.01H611.60L611.60 149.80H612.20L612.20 149.57H612.80L612.80 177.38H613.40L613.40 174.30H614.00L614.00 175.81H614.60L614.60 157.72H615.20L615.20 146.70H615.80L615.80 154.39H616.40L616.40 156.75H617.00L617.00 150.57H617.60L617.60 161.68H618.20L618.20 162.02H618.80L618.80 159.53H619.40L619.40 195.58H620.00L620.00 153.34H620.60L620.60 160.64H621.20L621.20 163.86H621.80L621.80 196.39H622.40L622.40 165.56H623.00L623.00 196.80H623.60L623.60 148.10H624.20L624.20 188.06H624.80L624.80 164.61H625.40L625.40 196.80H626.00L626.00 169.34H626.60L626.60 196.80H627.20L627.20 151.60H627.80L627.80 196.80H628.40L628.40 183.16H629.00L629.00 193.41H629.60L629.60 196.80H630.20L630.20 195.52H630.80L630.80 163.10H631.40L631.40 155.40H632.00L632.00 176.74H632.60L632.60 155.04H633.20L633.20 173.78H633.80L633.80 175.36H634.40L634.40 169.76H635.00L635.00 148.45H635.60L635.60 178.05H636.20L636.20 180.45H636.80L636.80 156.88H637.40L637.40 168.36H638.00L638.00 182.46H638.60L638.60 179.76H639.20L639.20 196.80H639.80L639.80 188.25H640.40L640.40 176.30H641.00L641.00 183.81H641.60L641.60 186.70H642.20L642.20 196.80H642.80L642.80 196.80H643.40L643.40 196.80H644.00L644.00 196.80H644.60L644.60 153.11H645.20L645.20 196.80H645.80L645.80 188.72H646.40L646.40 194.54H647.00L647.00 190.28H647.60L647.60 178.37H648.20L648.20 180.49H648.80L648.80 151.28H649.40L649.40 189.12H650.00L650.00 183.66H650.60L650.60 184.82H651.20L651.20 196.80H651.80L651.80 196.80H652.40L652.40 196.80H653.00L653.00 196.80H653.60L653.60 196.80H654.20L654.20 196.80H654.80L654.80 196.80H655.40L655.40 196.80H656.00L656.00 196.80H656.60L656.60 196.80H656.90L656.90 167.73L656.60 167.73L656.00 166.98L655.40 166.23L654.80 165.48L654.20 164.67L653.60 163.81L653.00 162.96L652.40 162.10L651.80 149.10L651.20 147.60L650.60 146.57L650.00 145.77L649.40 144.97L648.80 144.17L648.20 143.37L647.60 142.86L647.00 142.50L646.40 142.14L645.80 141.78L645.20 141.42L644.60 141.06L644.00 140.70L643.40 140.61L642.80 140.52L642.20 140.43L641.60 140.34L641.00 140.25L640.40 140.16L639.80 140.10L388.40 140.10Z" fill="#b24a17"/>
<path d="M699.6 188.8V196.8" stroke="#b24a17" stroke-width="0.7"/>
<path d="M711.9 189.8V196.8" stroke="#b24a17" stroke-width="0.7"/>
<path d="M714.8 188.8V196.8" stroke="#fd9f4c" stroke-width="0.7"/>
<path d="M713.3 191.8V196.8" stroke="#fd9f4c" stroke-width="0.7"/>
<path d="M742.0 194.3V196.8" stroke="#b24a17" stroke-width="0.7"/>
<path d="M676.0 194.3V196.8" stroke="#b24a17" stroke-width="0.7"/>
<path d="M652.05 76.0V132.7" stroke="#2b2b2b" stroke-opacity="0.8" stroke-width="0.9"/>
<path d="M656.9 76.0V132.7" stroke="#222" stroke-opacity="0.85" stroke-width="1"/>
<path d="M388.6 76.0V132.7" stroke="#555" stroke-opacity="0.8" stroke-width="0.7"/>
<path d="M652.05 140.1V196.8" stroke="#2b2b2b" stroke-opacity="0.8" stroke-width="0.9"/>
<path d="M656.9 140.1V196.8" stroke="#222" stroke-opacity="0.85" stroke-width="1"/>
<path d="M388.6 140.1V196.8" stroke="#555" stroke-opacity="0.8" stroke-width="0.7"/>
<text x="337.3" y="109.5" font-size="17.6"><tspan font-style="italic">K</tspan> = 2</text>
<text x="337.3" y="171.4" font-size="17.6"><tspan font-style="italic">K</tspan> = 3</text>
<text transform="translate(487.7 62.6) rotate(10)" font-size="17.5" font-style="italic">G. max</text>
<text transform="translate(607.5 63.2) rotate(10)" font-size="17.5">Hybrid</text>
<text transform="translate(698.8 62.5) rotate(10)" font-size="17.5" font-style="italic">G. soja</text>
</g>
<g id="panel-c">
<text x="4.4" y="325.2" font-size="21" font-weight="bold">c</text>
<path d="M59.85 316.5V647.7" stroke="#000" stroke-width="2.1"/>
<path d="M55 646.4H59" stroke="#000" stroke-width="2.2"/>
<text x="45.6" y="653.2" font-size="14.6" text-anchor="end">0</text>
<path d="M55 580.2H59" stroke="#000" stroke-width="2.2"/>
<text x="49.6" y="587.4" font-size="14.6" text-anchor="end">50</text>
<path d="M55 514.0H59" stroke="#000" stroke-width="2.2"/>
<text x="49.6" y="519.6" font-size="14.6" text-anchor="end">100</text>
<path d="M55 447.9H59" stroke="#000" stroke-width="2.2"/>
<text x="49.6" y="452.7" font-size="14.6" text-anchor="end">150</text>
<path d="M55 381.7H59" stroke="#000" stroke-width="2.2"/>
<text x="49.6" y="387.5" font-size="14.6" text-anchor="end">200</text>
<rect x="69.7" y="332.2" width="24.2" height="314.2" fill="#fff" stroke="#000" stroke-width="1.05"/>
<rect x="69.7" y="537.2" width="24.2" height="109.2" fill="#c4c4c4" stroke="#000" stroke-width="1.05"/>
<text x="86.3" y="665.9" font-size="14" text-anchor="middle">2</text>
<rect x="96.0" y="548.5" width="24.2" height="97.9" fill="#fff" stroke="#000" stroke-width="1.05"/>
<rect x="96.0" y="613.8" width="24.2" height="32.6" fill="#c4c4c4" stroke="#000" stroke-width="1.05"/>
<text x="112.5" y="665.9" font-size="14" text-anchor="middle">3</text>
<rect x="122.3" y="613.8" width="24.2" height="32.6" fill="#fff" stroke="#000" stroke-width="1.05"/>
<rect x="122.3" y="637.1" width="24.2" height="9.3" fill="#c4c4c4" stroke="#000" stroke-width="1.05"/>
<text x="136.4" y="665.9" font-size="14" text-anchor="middle">4</text>
<rect x="148.6" y="621.5" width="24.2" height="24.9" fill="#fff" stroke="#000" stroke-width="1.05"/>
<rect x="148.6" y="641.1" width="24.2" height="5.3" fill="#c4c4c4" stroke="#000" stroke-width="1.05"/>
<text x="162.9" y="665.9" font-size="14" text-anchor="middle">5</text>
<rect x="174.9" y="635.8" width="24.2" height="10.6" fill="#fff" stroke="#000" stroke-width="1.05"/>
<rect x="174.9" y="641.1" width="24.2" height="5.3" fill="#c4c4c4" stroke="#000" stroke-width="1.05"/>
<text x="189.4" y="665.9" font-size="14" text-anchor="middle">6</text>
<rect x="201.2" y="637.1" width="24.2" height="9.3" fill="#fff" stroke="#000" stroke-width="1.05"/>
<rect x="201.2" y="643.0" width="24.2" height="3.4" fill="#c4c4c4" stroke="#000" stroke-width="1.05"/>
<text x="214.8" y="665.9" font-size="14" text-anchor="middle">7</text>
<rect x="227.6" y="640.8" width="24.2" height="5.6" fill="#fff" stroke="#000" stroke-width="1.05"/>
<rect x="227.6" y="644.8" width="24.2" height="1.6" fill="#c4c4c4" stroke="#000" stroke-width="1.05"/>
<text x="242.2" y="665.9" font-size="14" text-anchor="middle">8</text>
<rect x="253.9" y="643.8" width="24.2" height="2.6" fill="#fff" stroke="#000" stroke-width="1.05"/>
<rect x="253.9" y="645.1" width="24.2" height="1.3" fill="#c4c4c4" stroke="#000" stroke-width="1.05"/>
<text x="267.6" y="665.9" font-size="14" text-anchor="middle">9</text>
<rect x="280.2" y="642.4" width="24.2" height="4.0" fill="#fff" stroke="#000" stroke-width="1.05"/>
<rect x="280.2" y="644.3" width="24.2" height="2.1" fill="#c4c4c4" stroke="#000" stroke-width="1.05"/>
<text x="297.5" y="665.9" font-size="14" text-anchor="middle">10</text>
<rect x="306.5" y="637.1" width="24.2" height="9.3" fill="#fff" stroke="#000" stroke-width="1.05"/>
<rect x="306.5" y="644.3" width="24.2" height="2.1" fill="#c4c4c4" stroke="#000" stroke-width="1.05"/>
<text x="319.5" y="665.9" font-size="14" text-anchor="middle">11</text>
<rect x="332.8" y="621.0" width="24.2" height="25.4" fill="#fff" stroke="#000" stroke-width="1.05"/>
<rect x="332.8" y="644.3" width="24.2" height="2.1" fill="#c4c4c4" stroke="#000" stroke-width="1.05"/>
<text x="350.1" y="665.9" font-size="14" text-anchor="middle">≥12</text>
<text x="80.3" y="687.5" font-size="16.4" textLength="258.8" lengthAdjust="spacingAndGlyphs">Number of redundant accessions</text>
<text transform="translate(12.8 485.4) rotate(-90)" font-size="17.3" text-anchor="middle">Count</text>
</g>
<g id="panel-d">
<text x="368.2" y="329.7" font-size="21" font-weight="bold">d</text>
<clipPath id="mapclip"><rect x="424.0" y="310.5" width="343.5" height="327.5"/></clipPath>
<g clip-path="url(#mapclip)">
<path d="M423.2 336.4L426.0 337.7L427.7 341.0L431.5 343.9L440.7 345.2L449.9 346.4L454.0 344.7L462.4 343.0L469.1 341.9L471.6 338.9L475.7 336.4L480.7 333.4L483.2 333.5L488.3 336.0L492.4 338.0L496.6 336.9L501.6 338.9L507.4 341.0L512.0 342.5L515.8 339.7L520.0 336.7L524.1 336.0L524.6 333.9L523.3 332.2L525.8 327.2L530.8 318.8L535.8 314.7L538.0 309.7M501.6 338.9L499.1 344.7L495.8 352.2L492.8 357.6L492.4 360.1L494.9 362.6L498.3 361.4L502.4 361.4L505.8 361.7L507.9 363.4L512.5 359.7L518.3 360.6L524.1 365.6L528.3 369.7L530.0 373.1L529.1 375.1L525.8 375.3L520.3 373.4L514.1 375.1L508.3 376.4L507.4 378.1L502.4 378.9L498.3 383.4L496.6 386.1L492.4 388.9L487.4 389.8L482.7 390.1L480.7 393.1L475.2 396.5L469.9 395.6L464.1 393.9L460.4 393.4L458.2 396.5L456.5 401.5L458.2 404.8L461.0 408.1L453.2 413.1L449.0 416.8L445.7 419.8L441.5 422.2L434.0 423.5L423.2 424.5M586.4 309.7L588.4 315.5L590.9 321.4L593.4 327.2L595.1 331.4L595.9 337.2L597.6 340.5L602.6 341.4L607.6 342.2L612.6 343.9L617.6 348.1L621.8 350.6L622.6 354.7L624.3 359.7L625.4 362.2L631.8 362.2L639.3 362.2L643.5 358.9L648.5 357.2L653.5 355.2L656.8 356.1L658.0 358.1L658.5 362.2L656.0 365.6L653.5 372.3L651.0 379.8L647.6 386.4L645.1 389.8L644.3 392.8L640.1 391.4L634.3 390.1L630.1 392.3L626.4 394.8L626.4 399.0L627.6 404.8L627.6 411.5L626.8 415.6L625.1 418.1L622.6 419.8L620.1 419.5L616.8 417.3L615.1 419.0L613.4 423.0M622.9 420.1L625.1 418.5L627.1 417.8L631.0 414.8L632.6 414.0L636.0 413.5L636.8 417.3L640.1 418.1L645.1 419.5L650.1 418.1L655.0 415.6M716.7 309.7L713.4 315.5L710.1 321.4L708.4 327.2L708.7 335.5L707.6 341.4L706.4 348.9L704.2 353.9L700.1 359.7L695.1 366.4L690.0 373.9L685.9 380.6L680.0 387.3L673.4 394.8L667.5 401.5L662.5 409.0L657.5 414.0L655.0 415.6M718.1 309.7L719.3 315.5L722.3 321.4L722.6 327.2L721.8 334.7L720.9 343.0L720.1 350.6L721.8 356.4L722.6 363.1L721.8 369.7L720.1 376.4L721.3 382.3L723.4 379.8L725.9 374.8L728.4 373.9L730.9 376.4L733.1 381.4L734.8 379.8L734.3 375.6L730.9 370.6L727.6 365.6L726.4 360.6L727.6 354.7L729.3 349.7L731.8 346.4L735.9 345.0L739.3 345.6L741.8 348.1L744.0 351.7L744.6 350.6L743.5 347.2L740.9 342.2L738.4 335.5L735.9 328.0L733.4 320.5L731.4 313.8L731.3 309.7M702.6 423.0L705.1 419.0L708.1 416.5L707.1 414.0L710.1 413.5L714.2 414.0L715.9 411.5L717.6 406.5L719.3 400.6L718.9 394.8L717.6 389.8L720.1 388.4L723.4 391.4L728.4 396.5L733.4 400.6L737.6 404.0L741.8 404.8L746.0 405.6L748.5 403.1L750.1 402.3L748.8 406.5L748.5 409.8L751.0 413.1L748.5 414.8L743.5 417.3L738.4 419.8L734.3 423.0M751.0 409.0L753.5 404.8L756.8 401.5L759.8 400.3L757.6 403.1L754.3 406.5L751.0 409.0M654.2 356.4L657.0 356.4L658.3 361.1L656.7 365.2L654.2 366.1M554.0 457.2L550.8 458.4L547.5 458.9L544.5 458.6L541.7 458.1L543.3 456.1L544.5 453.0L547.5 449.7L550.3 444.7L548.3 441.4L546.7 440.2L541.7 440.2L537.5 443.9L533.3 448.0L528.3 451.4L525.0 454.7L522.5 459.7L519.1 461.4L515.0 461.7L513.3 460.2L511.1 462.2L509.9 466.4L511.1 470.6L515.0 472.7L519.1 473.1L522.5 475.6L523.3 479.4L522.5 482.3L524.1 483.9L527.5 484.8L530.8 483.1L534.1 478.9L537.5 476.1L540.8 478.1L545.0 480.1L550.8 480.6L554.0 481.1M540.3 464.4L542.5 462.7L545.5 462.2L545.8 463.9L542.8 465.6L540.8 465.7L540.3 464.4M554.0 483.9L552.5 486.8L547.5 487.8L540.8 490.6L537.5 493.9L535.0 495.6L533.3 495.1L532.5 497.3L529.1 500.6L525.8 504.8L523.6 509.0L524.1 511.5L528.3 514.0L532.5 516.5L534.1 520.6L535.8 525.6L538.3 533.0M567.5 452.2L573.4 448.0L579.2 443.9L584.2 439.7L586.7 435.5L589.2 432.2L592.6 431.4L597.6 433.9L601.7 434.7L602.6 430.5L601.7 428.8L606.8 427.2L610.9 425.5L614.3 422.2L616.8 418.8L618.4 418.0M539.2 441.0L546.7 439.7L550.8 444.7L548.3 448.9L545.0 453.0L541.7 457.2L545.8 460.6L545.0 463.1L540.0 464.7M540.0 463.4L545.0 461.7L550.0 458.9L556.7 454.7L562.5 453.0L567.5 452.2L568.4 453.9L572.5 455.6L575.9 457.2L577.6 460.6L577.6 466.4L575.0 467.2L573.4 469.7L571.7 472.2L574.2 473.9L575.9 475.6L579.2 474.7L583.4 476.4L587.6 477.7L590.1 479.7M539.2 477.2L545.0 479.7L550.0 481.1L553.4 481.4L552.5 484.8L550.0 487.3L545.0 488.1L539.2 490.1M630.1 418.0L626.8 419.7L623.4 421.3L621.8 423.8L619.3 427.2L615.9 432.2L614.3 435.5L615.1 439.7L611.8 443.9L607.6 448.0L602.6 451.4L597.6 453.0L595.1 455.6L595.1 459.7L597.6 462.2L600.9 464.7L603.4 468.1L605.9 471.4M705.1 417.2L702.6 421.3L702.6 425.5L704.2 428.8L705.1 433.0L706.7 434.7L709.2 433.0L712.6 431.4L713.4 429.7L710.9 428.0L708.4 426.3L706.7 424.7L709.2 422.7L712.6 423.0L716.7 422.2L721.8 422.2L726.8 425.5L731.8 428.0L733.4 424.7L736.8 420.5L740.1 417.2M716.4 441.0L716.7 435.2L710.6 434.7L710.4 437.2L708.4 437.7L706.7 438.9L706.4 442.2L704.2 443.9L703.4 447.2L702.6 452.2L701.7 453.0L702.6 456.4L702.2 461.4L700.9 466.4L698.7 471.4L696.7 475.6L694.2 479.7L690.0 483.1L685.9 485.6L681.7 487.8L678.4 488.9L676.7 486.4L676.7 483.1L680.0 481.1L677.5 481.1L675.4 483.1L675.9 488.1L673.4 491.4L670.9 494.8M710.9 441.4L711.1 438.9L713.1 438.9L713.4 441.4L716.4 441.0L718.4 444.7L720.1 449.7L721.3 455.6L720.4 461.4L719.3 464.7L717.6 468.1L715.4 469.7L712.6 472.2L713.4 475.6L713.7 480.6L712.6 484.8L710.9 488.1L710.1 492.3L708.4 496.4L710.1 498.9L711.7 499.8L709.2 502.3L705.9 503.1L704.2 506.5L703.1 509.8L701.7 506.5L702.1 503.1L700.1 504.8L699.2 508.1L695.9 507.3L695.1 509.8L694.2 512.3L692.6 511.5L693.4 509.0L690.9 508.1L689.2 510.6L687.5 513.1L682.5 513.6L678.4 513.1L676.7 511.5L675.0 514.8L676.7 516.5M689.2 472.2L690.9 471.4L691.4 473.9L689.2 476.1L688.4 474.7L689.2 472.2M537.2 528.0L538.3 533.8L541.7 537.2L545.0 541.4L547.2 544.7L546.7 548.0L544.2 546.4L540.8 544.7L537.5 543.4L535.0 541.4L531.6 543.0L533.3 543.9L536.1 543.0L539.2 545.5L543.3 548.9L546.7 550.5L547.2 554.7L544.2 558.0L540.0 559.7L535.8 561.4L533.3 562.7L536.7 564.4L540.8 563.0L545.0 565.6L548.3 564.7L551.7 567.2L549.2 566.4L548.3 569.7L545.8 570.6L547.5 573.1L544.2 576.4L545.5 578.1L543.3 581.4L544.2 584.7L540.8 586.4L541.7 588.1L538.3 589.7L536.7 593.9L533.3 598.9L530.8 603.1L527.5 603.9L530.0 606.4L527.5 609.8L523.8 611.1L526.6 613.1L527.5 615.6L529.5 617.8L525.8 619.0L522.5 621.5L519.5 625.6L515.8 628.1L513.3 629.0L515.0 630.6L512.5 632.3L509.9 636.5L505.8 639.0M532.5 638.5L535.0 632.3L538.3 625.6L541.7 621.5L544.5 620.3L547.2 622.8L546.7 628.1L545.0 634.8L544.2 638.5M610.9 584.7L613.4 583.1L615.1 584.4L612.6 587.2L610.9 586.4L610.9 584.7M670.9 494.8L671.5 495.0L670.6 496.8L669.7 499.9L668.3 502.0L665.7 502.6L663.0 501.7L662.5 499.9L658.5 500.5L654.1 501.2L649.6 502.1L645.6 502.6L643.4 501.7L639.8 503.9L639.5 505.0L635.2 509.1L630.5 513.1L627.0 515.7L624.7 517.5L625.0 519.5L625.3 521.0L627.0 520.4L629.4 519.5L631.7 520.1L632.3 520.2L635.7 521.3L637.5 521.6L636.3 519.9L636.6 517.9L637.2 516.5L638.6 516.8L640.6 517.3L643.2 516.5L647.2 515.3L651.2 514.2L652.9 512.7L654.1 512.2L656.9 512.2L659.8 512.5L663.0 512.5L664.4 513.3L664.4 514.5L663.0 515.0L662.1 516.5L661.8 518.8L662.7 521.6L664.4 524.5L666.7 526.5L668.4 525.4L669.9 522.8L671.3 519.9L673.0 518.2L675.0 517.0L676.7 516.5M638.6 519.3L639.2 518.5L642.3 519.2L643.8 520.0L646.1 520.5L648.3 520.0L648.6 518.5L649.8 517.0L652.1 516.2L654.7 516.9L657.5 517.3L658.1 517.3L657.8 519.3L658.1 521.6L658.7 522.5L656.9 524.2L655.2 525.9L653.5 528.2L652.4 527.6L650.6 526.2L648.3 525.4L646.1 526.5L644.3 528.5L643.8 530.8L643.2 533.7L641.5 534.8L640.0 534.2L639.2 531.9L638.6 529.7L638.3 527.9L637.7 526.8L635.4 527.4L636.9 526.2L638.6 524.8L640.0 523.1L640.9 521.6L639.7 520.8L638.6 519.3M624.8 521.2L621.7 522.5L617.8 523.8L614.6 526.3L612.7 527.6L612.1 528.9L614.0 528.2L615.3 529.5L614.6 532.0L616.6 533.3L615.9 535.2L617.8 536.5L619.1 534.6L618.5 532.0L619.7 530.8L621.7 532.7L622.3 535.2L620.4 537.8L621.0 540.3L619.1 541.0L618.9 543.5L619.4 547.3L618.9 550.5L620.4 551.8L622.9 552.4L623.6 549.9L622.7 546.7L623.9 547.3L624.8 551.1L626.8 551.1L628.7 549.2L630.6 546.1L631.2 542.2L632.5 538.4L633.8 534.6L634.4 530.8L633.1 528.2L631.2 526.9L629.3 524.4L626.8 523.1L624.8 521.2M616.6 537.8L618.5 538.4L619.7 537.1L621.0 537.8L619.1 539.7L617.2 539.7L616.6 537.8M582.8 510.3L583.7 509.2L585.3 509.6L585.9 511.0L584.6 512.1L583.2 511.4L582.8 510.3M603.5 468.2L607.7 472.0L610.4 477.4L612.3 482.3L613.5 487.8L613.7 492.7L613.1 497.6L612.7 501.9L611.6 506.3" fill="none" stroke="#000" stroke-width="1.0" stroke-linejoin="round" stroke-linecap="round"/>
<path d="M712.6 388.6L714.2 392.3M764.3 399.0L766.0 396.5L767.8 394.8M758.1 409.1L759.1 408.6M761.8 408.0L763.1 407.3M624.4 479.7L625.3 480.4M614.6 522.1L615.3 522.8M699.1 425.8L699.7 426.3M698.4 511.0L699.2 511.5M702.4 530.1L702.9 530.7M607.6 590.6L608.4 591.9M576.2 624.6L577.7 626.6M562.9 630.5L564.9 631.6M566.5 629.6L568.2 628.5M702.4 530.3L702.9 530.8M722.1 603.9L722.6 604.8M652.1 514.7L654.1 515.3L655.2 515.0L653.5 514.2L652.1 514.7M658.7 514.2L660.4 513.6L660.1 515.3L658.4 517.2M609.4 530.5L608.8 532.8M613.1 528.0L613.8 528.6M614.8 545.8L615.3 546.4M626.2 557.3L625.5 560.8M621.4 561.7L622.9 562.7L621.9 563.1L621.4 561.7M614.4 522.2L615.0 522.9M582.8 488.1L584.8 491.0L587.2 492.7M587.2 516.2L589.2 516.8M612.3 512.3L611.4 516.5L610.8 519.1M540.8 544.7L544.2 546.7L547.0 549.2M597.4 609.9L598.7 607.1L601.1 604.3L603.3 602.3" fill="none" stroke="#000" stroke-width="1.7" stroke-linejoin="round" stroke-linecap="round"/>
<path d="M602.2 503.7h0M611.4 499.5h0M597.8 481.2h0M599.9 496.1h0M592.4 511.6h0M606.3 477.2h0M607.2 476.3h0M602.1 475.8h0M584.4 509.6h0M590.3 479.8h0M599.8 500.8h0M590.2 512.8h0M610.0 483.6h0M594.7 477.5h0M593.0 497.4h0M594.0 484.1h0M607.8 491.8h0M593.4 491.9h0M604.6 472.6h0M605.9 508.4h0M594.8 496.3h0M589.5 513.4h0M590.0 504.3h0M594.2 486.1h0M599.4 505.3h0M587.4 504.0h0M586.9 485.5h0M594.1 512.0h0M600.0 484.2h0M593.4 478.1h0M596.0 480.8h0M601.4 507.6h0M597.4 489.2h0M608.4 475.9h0M602.4 505.8h0M587.4 489.7h0M588.6 508.4h0M592.8 490.6h0M612.4 490.6h0M598.4 503.2h0M598.1 483.2h0M595.9 476.7h0M611.9 498.5h0M598.7 485.4h0M594.7 505.7h0M606.6 501.6h0M603.4 504.5h0M594.8 502.0h0M592.4 492.1h0M606.4 501.4h0M592.8 513.0h0M603.0 496.4h0M591.5 500.5h0M597.6 507.1h0M602.9 506.3h0M594.3 499.3h0M605.5 507.6h0M594.4 508.3h0M609.3 501.3h0M599.2 494.1h0M589.1 508.0h0M611.3 491.7h0M604.2 502.7h0M605.3 477.8h0M606.8 496.4h0M603.5 489.1h0M602.2 505.2h0M602.6 502.7h0M597.0 499.5h0M590.6 501.2h0M602.5 471.9h0M597.9 480.3h0M593.4 478.2h0M597.7 487.3h0M601.9 496.8h0M591.2 511.1h0M584.3 488.4h0M592.3 488.6h0M587.6 507.8h0M595.1 471.6h0M602.0 474.3h0M600.0 485.4h0M607.8 489.0h0M607.7 499.2h0M594.9 476.5h0M601.4 495.6h0M601.8 486.0h0M602.0 476.4h0M602.4 510.5h0M595.1 489.6h0M590.8 483.2h0M612.3 487.3h0M601.4 481.8h0M612.5 492.6h0M596.3 484.5h0M612.6 492.3h0M592.5 491.7h0M597.1 483.3h0M592.2 512.5h0M606.8 481.2h0M592.0 477.0h0M601.8 491.6h0M602.9 497.4h0M605.7 475.4h0M606.2 483.7h0M599.7 485.3h0M592.8 494.1h0M597.7 486.4h0M605.7 496.9h0M597.4 511.7h0M609.8 494.8h0M596.6 496.2h0M604.7 498.7h0M598.2 511.4h0M595.4 487.8h0M608.8 478.9h0M592.8 507.7h0M586.2 508.0h0M604.3 489.7h0M592.5 505.5h0M598.1 495.0h0M598.6 485.0h0M588.7 496.6h0M590.9 507.3h0M607.1 500.2h0M604.5 472.2h0M608.5 480.0h0M604.8 476.1h0M592.7 511.7h0M596.2 477.3h0M602.2 472.0h0M587.4 487.2h0M600.9 503.7h0M596.7 484.3h0M601.6 492.2h0M611.3 487.0h0M588.7 498.7h0M598.9 511.4h0M600.3 498.2h0M591.9 495.1h0M591.6 504.1h0M599.2 476.1h0M591.1 486.9h0M605.5 478.1h0M604.8 499.8h0M601.4 480.8h0M609.5 491.8h0M593.6 506.2h0M611.7 501.0h0M590.7 475.3h0M607.9 476.3h0M602.3 486.1h0M591.1 485.1h0M602.0 485.8h0M595.4 476.2h0M608.2 499.4h0M607.4 489.7h0M608.8 493.5h0M601.4 496.1h0M605.6 488.0h0M609.9 491.9h0M597.8 510.4h0M602.1 489.5h0M597.7 474.5h0M588.8 477.2h0M595.1 487.5h0M591.6 482.6h0M589.0 483.0h0M591.1 491.9h0M594.9 512.6h0M604.1 500.6h0M597.9 513.0h0M587.7 500.4h0M592.7 500.7h0M605.3 477.4h0M590.9 473.5h0M594.8 484.2h0M597.8 482.9h0M605.4 502.6h0M589.0 480.9h0M602.9 489.6h0M586.1 505.4h0M596.1 472.0h0M599.2 485.9h0M610.2 492.3h0M591.3 472.3h0M595.7 472.7h0M591.7 488.5h0M593.1 472.3h0M589.5 493.1h0M595.9 494.1h0M610.8 497.2h0M608.9 479.7h0M598.3 496.0h0M595.1 498.4h0M593.2 490.4h0M608.1 480.2h0M587.6 484.2h0M586.8 505.1h0M607.9 484.2h0M591.4 473.8h0M596.6 496.2h0M591.4 472.8h0M604.5 472.2h0M590.1 483.0h0M595.1 474.5h0M596.4 484.3h0M605.9 495.3h0M610.1 499.7h0M606.2 496.1h0M597.0 507.1h0M605.2 501.9h0M592.0 506.9h0M595.3 475.9h0M591.9 500.7h0M592.5 472.9h0M606.3 495.3h0M588.1 486.2h0M601.9 480.5h0M596.6 486.5h0M593.8 470.6h0M601.1 507.6h0M605.2 474.3h0M599.6 477.8h0M604.7 490.3h0M587.7 484.4h0M610.6 491.0h0M596.8 490.1h0M601.5 474.7h0M607.7 489.1h0M585.8 514.5h0M598.2 510.1h0M595.6 479.8h0M592.3 479.1h0M600.5 486.2h0M605.9 481.0h0M594.4 481.3h0M608.7 498.1h0M595.8 476.5h0M608.2 492.3h0M587.2 502.6h0M607.2 484.7h0M603.9 509.2h0M602.2 506.4h0M599.0 496.7h0M589.6 487.7h0M593.4 471.2h0M593.3 487.4h0M598.0 502.0h0M604.2 500.5h0M599.7 506.3h0M594.7 497.0h0M603.9 493.7h0M592.5 473.5h0M586.8 486.2h0M601.0 504.5h0M604.9 483.9h0M604.9 473.3h0M606.0 500.4h0M604.1 508.1h0M605.6 497.8h0M590.3 493.5h0M610.1 480.9h0M612.3 494.7h0M595.5 478.1h0M603.1 510.9h0M610.5 497.9h0M595.4 474.9h0M604.1 495.2h0M604.9 487.0h0M593.1 482.2h0M602.2 510.8h0M589.1 498.8h0M606.4 480.2h0M605.2 488.9h0M596.5 494.0h0M610.3 483.7h0M592.4 497.5h0M600.5 497.4h0M589.6 478.6h0M601.4 499.4h0M604.2 503.1h0M593.5 508.6h0M590.9 501.7h0M608.5 491.7h0M587.2 478.8h0M588.7 498.0h0M587.3 504.5h0M605.5 507.1h0M607.4 502.4h0M595.1 490.8h0M603.9 503.8h0M586.7 488.3h0M599.9 487.0h0M595.1 501.1h0M598.6 513.8h0M606.2 502.8h0M592.8 475.3h0M598.1 486.1h0M595.3 483.2h0M598.7 501.7h0M607.0 496.2h0M592.8 485.3h0M608.7 493.6h0M585.8 489.1h0M591.2 500.3h0M595.4 512.4h0M587.0 486.2h0M606.3 486.4h0M597.5 487.4h0M599.2 472.4h0M597.0 491.4h0M611.8 501.2h0M598.9 472.4h0M595.6 505.4h0M596.8 497.0h0M610.3 499.3h0M602.6 471.6h0M596.2 509.7h0M588.6 505.5h0M596.4 482.3h0M597.8 483.0h0M603.5 475.6h0M589.2 490.8h0M586.4 487.3h0M601.5 476.2h0M591.1 511.8h0M589.6 489.5h0M592.0 504.3h0M595.0 505.2h0M588.7 493.6h0M602.8 487.0h0M594.9 491.7h0M591.2 495.8h0M591.9 494.8h0M605.3 476.1h0M598.1 502.1h0M596.4 492.9h0M601.9 506.0h0M585.4 487.5h0M594.3 471.0h0M592.9 490.5h0M595.0 494.1h0M593.0 477.6h0M597.2 503.5h0M599.5 487.7h0M610.9 483.6h0M600.2 507.7h0M588.3 485.9h0M598.5 495.7h0M590.3 490.6h0M594.2 476.5h0M592.2 505.6h0M605.6 481.9h0M608.2 498.4h0M595.5 498.6h0M591.4 482.0h0M609.5 489.9h0M605.6 495.5h0M608.0 492.5h0M601.2 475.3h0M605.0 497.8h0M601.9 480.1h0M597.5 499.5h0M610.0 502.8h0M606.0 481.8h0M606.1 493.4h0M610.2 491.2h0M588.8 479.8h0M591.9 513.0h0M590.2 474.0h0M594.5 473.6h0M596.5 498.3h0M603.0 477.9h0M588.3 492.3h0M604.1 490.3h0M600.8 511.5h0M598.5 494.4h0M610.2 495.2h0M603.4 489.1h0M592.8 474.9h0M591.8 486.2h0M609.9 482.0h0M602.4 499.1h0M606.5 485.3h0M608.6 496.5h0M595.4 498.9h0M605.1 481.8h0M596.1 485.0h0M604.9 488.7h0M593.0 478.2h0M610.1 493.0h0M587.3 488.9h0M600.6 483.2h0M597.7 474.7h0M606.4 475.2h0M599.8 473.8h0M596.9 482.4h0M596.6 479.5h0M599.1 511.7h0M595.3 498.8h0M610.7 484.8h0M607.6 494.0h0M611.3 491.2h0M597.1 511.7h0M600.8 492.7h0M592.5 503.8h0M591.7 491.4h0M606.1 497.5h0M588.2 479.2h0M604.3 503.1h0M588.1 477.6h0M586.9 490.3h0M602.1 509.0h0M589.0 501.8h0M591.6 486.2h0M587.8 504.7h0M594.0 496.9h0M602.7 492.2h0M592.4 485.2h0M596.4 488.8h0M603.1 504.4h0M611.4 484.2h0M608.8 500.1h0M596.4 508.1h0M603.7 485.4h0M605.4 493.0h0M604.8 497.9h0M607.2 477.2h0M607.1 505.1h0M599.7 491.8h0M587.8 479.2h0M591.2 507.7h0M603.0 487.5h0M602.9 480.4h0M603.2 496.4h0M605.7 492.9h0M596.8 483.9h0M605.5 486.9h0M601.5 504.4h0M597.1 501.2h0M608.5 476.7h0M606.3 474.8h0M597.5 489.9h0M607.4 491.7h0M607.2 504.9h0M602.2 507.9h0M602.0 502.5h0M608.8 498.1h0M586.2 485.4h0M587.2 486.8h0M592.9 503.1h0M595.5 477.5h0M604.1 479.9h0M595.9 490.5h0M596.1 471.2h0M597.4 504.9h0M604.3 509.1h0M604.0 504.7h0M607.1 488.9h0M603.3 499.9h0M609.7 502.4h0M597.1 478.7h0M593.7 481.4h0M603.9 505.0h0M589.8 494.2h0M608.5 486.6h0M594.7 476.5h0M588.6 489.3h0M608.3 484.8h0M606.1 491.7h0M607.4 490.5h0M610.7 497.6h0M599.8 477.8h0M596.6 490.0h0M608.0 480.4h0M592.8 507.1h0M590.6 500.2h0M601.4 474.3h0M605.3 488.5h0M593.5 508.9h0M606.7 484.1h0M603.8 475.6h0M599.2 473.7h0M602.6 471.8h0M599.1 491.3h0M597.1 476.9h0M592.3 490.4h0M591.3 483.2h0M587.1 485.7h0M594.2 479.5h0M603.9 491.0h0M587.1 509.2h0M593.7 501.2h0M597.3 509.6h0M592.5 482.0h0M607.9 492.8h0M594.3 493.0h0M608.6 495.9h0M597.3 499.9h0M602.0 488.4h0M596.6 476.0h0M596.9 509.9h0M593.1 486.6h0M601.7 496.8h0M589.4 490.3h0M605.4 471.9h0M587.4 504.3h0M592.5 499.8h0M589.0 485.1h0M604.3 493.2h0M602.1 508.5h0M589.4 491.6h0M593.5 498.4h0M587.5 510.2h0M595.0 505.6h0M595.5 508.9h0M605.8 503.1h0M597.5 482.6h0M589.3 488.7h0M611.1 488.3h0M591.7 498.2h0M596.9 497.9h0M597.4 483.0h0M585.3 507.2h0M603.3 481.1h0M598.7 496.4h0M598.8 510.9h0M606.7 483.9h0M594.1 497.8h0M589.0 512.5h0M592.2 493.9h0M590.7 490.7h0M593.3 481.3h0M606.8 481.6h0M589.2 482.3h0M605.0 492.3h0M605.3 503.2h0M610.5 495.3h0M595.3 496.1h0M592.4 471.7h0M591.8 490.8h0M591.4 486.7h0M611.8 492.1h0M608.4 503.8h0M601.3 484.6h0M595.6 484.4h0M602.6 508.9h0M607.0 483.4h0M601.1 480.4h0M590.9 479.3h0M603.4 496.6h0M592.4 503.2h0M590.3 511.9h0M604.6 503.3h0M598.3 509.6h0M602.4 501.4h0M597.7 494.8h0M587.1 503.7h0M594.3 491.6h0M599.3 508.1h0M593.0 495.4h0M601.7 499.8h0M593.3 482.7h0M597.8 497.3h0M602.9 476.1h0M597.1 495.5h0M589.9 474.6h0M598.7 483.4h0M589.0 488.2h0M594.4 501.6h0M590.9 482.8h0M610.0 490.1h0M591.7 491.8h0M598.3 476.8h0M603.5 502.8h0M598.0 494.4h0M601.9 472.0h0M598.8 500.1h0M593.8 501.1h0M594.9 498.0h0M602.0 500.5h0M610.9 502.2h0M604.7 502.0h0M590.9 497.9h0M602.2 472.8h0M606.0 480.3h0M598.5 493.8h0M605.1 504.8h0M597.8 512.7h0M597.1 495.7h0M586.7 505.3h0M603.1 494.5h0M588.5 492.1h0M602.0 501.8h0M596.6 511.5h0M593.9 505.0h0M599.6 500.3h0M602.6 509.3h0M598.5 492.4h0M603.2 495.5h0M593.5 492.7h0M592.9 506.9h0M591.3 500.3h0M600.7 510.7h0M598.0 484.9h0M591.8 486.5h0M588.6 484.3h0M594.5 481.4h0M592.7 498.6h0M598.1 475.3h0M599.4 482.2h0M588.5 505.7h0M587.3 490.0h0M606.3 494.7h0M609.4 484.4h0M610.1 489.3h0M605.5 506.9h0M597.7 511.3h0M593.1 473.8h0M596.6 493.7h0M597.4 484.1h0M611.6 491.6h0M593.2 505.3h0M591.3 489.2h0M599.4 500.6h0M603.6 493.7h0M594.9 476.7h0M603.7 485.3h0M591.0 484.3h0M598.5 479.5h0M608.8 491.9h0M609.9 496.3h0M592.7 502.4h0M611.2 500.2h0M585.8 489.3h0M608.4 497.0h0M590.3 480.7h0M589.5 490.2h0M598.5 505.6h0M588.2 513.1h0M609.2 491.9h0M609.8 483.5h0M611.2 503.0h0M603.9 471.8h0M594.3 485.7h0M589.2 480.2h0M599.2 486.9h0M592.0 488.7h0M611.5 497.1h0M585.2 510.0h0M605.6 504.2h0M602.0 491.6h0M605.1 489.4h0M589.9 480.0h0M594.3 488.7h0M592.3 505.5h0M598.5 477.7h0M590.7 499.0h0M594.6 483.5h0M593.0 497.6h0M598.8 492.2h0M603.9 491.5h0M611.5 489.9h0M602.2 496.8h0M607.0 502.4h0M589.9 488.9h0M604.1 484.9h0M594.6 489.8h0M604.5 480.0h0M601.0 499.3h0M592.6 510.4h0M601.9 502.3h0M588.3 507.8h0M592.6 498.1h0M605.5 484.6h0M591.9 485.0h0M597.9 495.5h0M603.2 481.9h0M601.1 497.2h0M598.6 489.2h0M597.9 486.9h0M606.2 496.1h0M587.8 513.4h0M599.5 504.0h0M600.1 496.7h0M600.9 475.2h0M588.1 503.2h0M594.4 475.8h0M607.8 504.0h0M606.3 487.6h0M588.1 504.5h0M590.5 500.4h0M604.3 482.4h0M607.0 496.7h0M605.3 489.8h0M601.0 483.7h0M590.9 494.9h0M601.8 511.3h0M601.7 492.7h0M603.0 498.5h0M596.0 482.1h0M603.9 487.6h0M594.6 501.2h0M603.2 492.3h0M607.8 484.8h0M594.4 504.1h0M603.8 489.4h0M599.7 509.0h0M607.5 494.2h0M611.2 484.9h0M603.4 499.2h0M595.5 475.7h0M604.0 473.2h0M608.7 476.6h0M589.8 513.2h0M598.6 504.3h0M594.3 481.0h0M589.8 511.1h0M609.7 500.9h0M592.0 503.2h0M610.3 496.9h0M590.6 497.7h0M611.8 496.8h0M588.6 479.2h0M602.4 472.2h0M584.4 487.0h0M591.7 492.4h0M603.7 484.4h0M601.0 494.0h0M607.0 496.2h0M602.7 495.6h0M587.6 509.3h0M610.0 497.7h0M608.9 501.9h0M595.1 475.2h0M606.3 502.3h0M597.8 482.3h0M594.8 512.5h0M597.6 479.5h0M589.4 478.9h0M605.3 487.6h0M597.9 501.1h0M592.2 497.0h0M590.2 480.1h0M600.0 489.4h0M594.2 474.8h0M594.7 508.0h0M589.6 489.6h0M589.1 481.3h0M593.9 477.5h0M603.9 493.8h0M592.7 481.6h0M596.9 473.4h0M599.3 481.6h0M606.5 482.1h0M611.0 491.4h0M609.7 491.1h0M599.9 481.8h0M606.1 486.7h0M609.7 502.2h0M596.6 471.4h0M592.0 489.0h0M595.0 496.5h0M604.1 501.2h0M607.0 490.9h0M598.6 512.7h0M600.2 497.2h0M593.2 500.2h0M598.4 512.9h0M586.4 485.4h0M608.1 495.4h0M591.7 474.6h0M591.5 475.8h0M588.4 503.9h0M589.9 477.6h0M602.1 475.9h0M608.3 499.6h0M609.6 503.0h0M605.3 482.1h0M596.5 487.3h0M595.6 511.5h0M596.9 506.3h0M602.5 473.8h0M590.4 496.3h0M607.0 480.6h0M591.5 487.1h0M597.5 489.1h0M610.9 497.6h0M592.3 485.6h0M598.9 477.3h0M595.6 472.9h0M603.2 509.4h0M610.2 497.1h0M595.4 495.4h0M600.3 478.0h0M599.9 492.6h0M590.0 490.1h0M608.4 499.2h0M593.8 480.8h0M602.4 495.1h0M592.9 491.4h0M596.0 498.5h0M609.6 486.9h0M599.8 495.5h0M603.5 481.1h0M591.4 511.9h0M588.5 501.0h0M591.8 492.3h0M597.3 480.9h0M589.4 513.5h0M605.6 486.9h0M589.9 505.3h0M604.6 488.0h0M610.0 500.1h0M588.1 490.1h0M604.6 476.9h0M586.8 515.0h0M610.9 499.6h0M604.9 490.0h0M598.7 473.4h0M588.5 513.3h0M604.0 489.5h0M597.6 480.6h0M606.3 505.5h0M605.2 489.5h0M598.4 488.0h0M597.7 484.8h0M597.8 513.7h0M607.4 476.1h0M603.6 507.3h0M594.2 510.4h0M602.3 487.3h0M597.7 494.9h0M609.0 498.7h0M609.9 481.3h0M607.2 487.8h0M589.6 506.5h0M600.9 480.2h0M610.0 492.3h0M593.7 494.7h0M600.0 483.0h0M604.4 482.1h0M604.0 498.0h0M594.9 500.5h0M595.1 505.5h0M595.5 507.5h0M592.9 477.8h0M593.8 475.7h0M596.3 480.9h0M591.3 483.9h0M598.6 476.0h0M590.4 488.1h0M587.7 476.6h0M601.7 483.7h0M603.6 482.5h0M606.2 485.4h0M609.3 489.3h0M604.2 504.1h0M604.5 504.2h0M594.2 476.9h0M593.2 490.0h0M594.1 503.0h0M597.3 499.4h0M599.1 486.4h0M596.0 471.9h0M611.7 503.3h0M587.1 479.2h0M606.8 493.1h0M605.8 504.2h0M588.5 507.4h0M590.1 476.3h0M605.8 507.1h0M593.0 487.5h0M605.4 483.4h0M588.0 512.9h0M591.4 479.0h0M596.9 477.8h0M610.9 495.9h0M608.5 492.3h0M598.7 513.4h0M587.9 480.2h0M608.9 496.8h0M606.5 497.7h0M605.9 494.2h0M590.6 484.8h0M610.9 493.9h0M598.5 490.7h0M602.4 497.9h0M598.4 511.1h0M609.8 505.6h0M605.2 502.7h0M590.0 492.3h0M592.0 479.3h0M596.0 471.1h0M589.4 499.3h0M604.7 486.1h0M601.5 477.4h0M603.2 505.5h0M606.8 495.6h0M592.0 488.5h0M611.8 501.1h0M600.5 501.3h0M609.3 498.9h0M596.6 487.8h0M588.7 507.2h0M602.8 485.6h0M604.3 482.5h0M605.8 495.4h0M601.1 472.6h0M606.2 483.3h0M605.1 475.3h0M600.0 485.7h0M597.9 483.2h0M586.3 489.8h0M591.1 478.0h0M593.8 475.7h0M596.4 475.5h0M596.6 493.0h0M604.8 508.4h0M589.4 488.5h0M609.2 485.7h0M602.2 479.0h0M598.1 484.8h0M598.1 498.0h0M598.9 506.9h0M598.9 478.8h0M603.6 482.3h0M590.4 487.7h0M598.3 471.5h0M599.0 486.7h0M597.5 501.7h0M598.8 488.4h0M601.0 482.5h0M603.9 489.3h0M604.6 485.8h0M602.7 478.9h0M598.3 492.4h0M597.5 504.8h0M589.9 476.9h0M588.3 506.0h0M589.8 484.4h0M588.3 511.3h0M590.3 480.7h0M601.4 502.0h0M599.6 495.2h0M599.1 506.3h0M593.8 471.9h0M602.6 491.8h0M605.8 507.9h0M605.4 501.5h0M593.9 503.0h0M602.7 480.0h0M609.3 491.5h0M599.6 479.0h0M608.2 491.5h0M605.7 508.3h0M599.2 496.6h0M597.6 480.8h0M597.8 473.6h0M596.9 485.5h0M591.2 505.2h0M601.0 511.9h0M589.9 487.3h0M602.1 505.1h0M596.6 478.4h0M595.4 495.8h0M596.6 493.0h0M608.3 502.9h0M595.8 478.6h0M605.4 483.3h0M591.9 481.4h0M604.1 499.4h0M611.3 496.8h0M598.2 510.2h0M596.2 507.3h0M593.1 482.0h0M591.9 471.3h0M591.6 485.4h0M597.3 494.1h0M588.2 511.1h0M592.6 494.5h0M593.1 510.7h0M611.2 495.9h0M587.0 486.9h0M604.6 495.7h0M592.4 488.0h0M586.1 488.3h0M608.0 487.6h0M597.7 477.6h0M604.8 488.9h0M595.4 505.1h0M592.8 473.5h0M602.8 503.5h0M585.8 485.7h0M609.8 493.1h0M596.0 475.9h0M592.6 496.7h0M610.6 500.1h0M612.2 488.5h0M586.3 485.5h0M594.8 472.6h0M586.7 511.4h0M586.7 514.6h0M589.1 483.7h0M590.8 479.5h0M606.6 473.2h0M598.4 476.0h0M609.5 494.3h0M588.4 502.6h0M586.3 505.2h0M592.9 510.6h0M592.5 503.6h0M598.6 480.9h0M598.4 489.6h0M588.8 494.8h0M599.6 501.8h0M594.1 497.9h0M590.0 493.7h0M591.2 505.7h0M589.8 483.2h0M599.9 480.4h0M587.8 510.6h0M593.2 479.8h0M595.8 508.2h0M600.0 485.2h0M598.7 472.7h0M603.9 508.1h0M602.9 506.5h0M592.7 495.5h0M589.0 512.6h0M599.0 478.0h0M590.4 508.4h0M602.3 498.3h0M609.6 484.4h0M592.3 495.9h0M590.2 501.8h0M598.0 479.1h0M587.9 477.4h0M600.9 511.6h0M600.6 506.4h0M593.8 486.7h0M610.3 481.7h0M602.2 495.8h0M596.4 510.8h0M603.9 506.8h0M597.2 496.7h0M608.0 480.2h0M589.6 504.2h0M609.5 480.3h0M600.0 493.1h0M593.3 508.3h0M592.4 505.4h0M596.2 476.7h0M594.4 471.2h0M588.8 512.8h0M591.6 502.5h0M611.7 490.8h0M591.5 472.1h0M602.8 484.4h0M589.5 489.9h0M604.8 485.5h0M600.5 478.6h0M600.4 471.9h0M600.9 491.5h0M595.7 504.0h0M600.9 502.3h0M597.1 488.2h0M605.1 478.2h0M594.1 480.9h0M590.2 509.2h0M593.3 503.5h0M597.8 503.8h0M607.7 483.1h0M587.0 487.4h0M606.4 504.6h0M610.6 483.1h0M586.8 509.5h0M607.9 490.3h0M604.3 504.1h0M608.4 478.6h0M607.0 493.7h0M598.9 510.6h0M609.5 492.9h0M588.2 485.2h0M600.7 492.8h0M602.8 507.3h0M594.3 504.4h0M612.4 493.0h0M593.4 498.1h0M587.9 509.7h0M600.6 489.1h0M607.1 490.2h0M588.3 485.9h0M606.2 499.2h0M592.3 505.9h0M611.3 501.3h0M595.3 503.9h0M603.5 496.3h0M606.9 495.1h0M599.8 481.7h0M606.7 474.9h0M585.6 509.8h0M589.9 491.2h0M591.8 491.9h0M602.0 478.9h0M588.6 479.9h0M589.9 474.8h0M608.3 496.3h0M590.3 510.1h0M603.6 501.8h0M591.1 476.8h0M602.5 483.3h0M601.7 503.6h0M612.5 488.3h0M600.8 485.0h0M609.6 480.1h0M597.1 495.9h0M590.2 512.2h0M599.7 487.7h0M605.8 471.7h0M591.7 490.6h0M612.4 491.5h0M610.9 490.9h0M598.9 471.6h0M601.0 497.4h0M589.3 485.9h0M595.8 487.3h0M605.0 501.8h0M591.7 497.8h0M604.2 505.9h0M588.3 485.1h0M602.0 484.3h0M610.6 488.8h0M604.7 473.1h0M612.1 485.5h0M585.2 508.1h0M603.3 491.6h0M588.4 493.0h0M598.6 479.2h0M610.2 503.6h0M589.1 498.2h0M585.9 489.1h0M588.7 504.1h0M586.7 507.7h0M602.0 499.2h0M605.4 498.5h0M600.0 493.5h0M604.1 488.9h0M597.3 508.4h0M595.4 503.1h0M591.1 497.6h0M597.7 496.7h0M591.4 505.6h0M606.8 487.4h0M601.7 490.0h0M599.8 482.1h0M587.7 509.3h0M597.1 499.1h0M601.7 497.5h0M609.1 481.8h0M599.1 506.5h0M589.8 487.2h0M600.8 496.9h0M604.3 493.0h0M587.2 505.5h0M604.0 498.3h0M592.9 474.1h0M591.7 498.4h0M599.7 507.0h0M589.3 498.2h0M593.0 471.9h0M589.7 475.0h0M612.4 486.4h0M606.1 489.2h0M599.0 481.4h0M601.0 495.8h0M597.1 513.3h0M588.4 494.1h0M604.5 478.3h0M609.9 504.2h0M587.8 483.5h0M603.9 510.1h0M608.4 496.6h0M594.7 480.9h0M596.7 475.5h0M590.2 484.6h0M588.2 479.2h0M596.5 498.1h0M609.4 503.5h0M609.5 485.1h0M601.8 485.0h0M594.1 503.7h0M600.8 479.7h0M588.0 509.8h0M590.3 493.2h0M608.4 492.1h0M598.0 477.4h0M611.2 497.3h0M603.5 487.9h0M604.8 487.2h0M589.5 486.2h0M599.1 500.0h0M611.2 499.5h0M609.4 504.1h0M600.7 496.9h0M595.8 497.3h0M597.0 509.9h0M605.5 487.0h0M602.7 479.7h0M610.5 494.4h0M588.6 514.7h0M590.0 500.8h0M591.8 476.1h0M610.0 500.6h0M602.8 477.1h0M593.4 493.8h0M597.9 488.8h0M595.3 470.9h0M602.9 486.1h0M587.6 486.7h0M603.6 503.8h0M596.3 475.3h0M602.3 497.3h0M598.2 514.1h0M594.8 493.8h0M589.9 478.5h0M589.3 474.9h0M610.7 496.7h0M598.4 495.5h0M592.5 509.4h0M605.5 489.4h0M599.2 486.8h0M592.9 512.7h0M604.5 480.5h0M588.3 476.6h0M587.3 487.7h0M601.8 479.5h0M586.7 485.3h0M597.5 510.0h0M591.8 507.4h0M592.4 496.6h0M599.7 480.6h0M599.9 482.0h0M607.2 480.7h0M606.8 478.6h0M609.7 498.9h0M591.6 493.0h0M593.8 500.1h0M592.6 477.6h0M588.2 484.5h0M593.9 495.2h0M598.5 477.0h0M608.2 502.2h0M589.6 477.7h0M602.6 502.7h0M591.2 509.3h0M610.2 491.5h0M587.8 477.9h0M605.0 473.0h0M602.3 502.6h0M591.2 489.9h0M599.9 478.9h0M592.6 512.4h0M592.6 487.9h0M603.4 475.7h0M587.2 485.1h0M594.1 501.7h0M611.2 490.0h0M597.8 493.5h0M604.8 491.6h0M601.1 511.3h0M602.2 501.3h0M609.7 503.4h0M597.5 513.5h0M609.6 499.2h0M606.8 485.7h0M592.5 478.0h0M589.2 507.3h0M599.8 509.0h0M612.7 490.0h0M589.4 510.7h0M592.0 499.6h0M587.1 509.3h0M605.8 495.2h0M606.7 476.3h0M608.7 494.5h0M595.3 507.0h0M597.5 471.9h0M604.4 471.6h0M600.5 479.9h0M596.1 489.1h0M604.4 499.0h0M594.4 480.4h0M606.7 473.0h0M601.1 503.0h0M606.9 498.8h0M591.1 475.0h0M595.5 471.3h0M600.6 494.3h0M585.8 527.5h0M587.6 527.9h0M589.6 528.3h0M588.9 525.6h0M588.2 527.8h0M585.8 526.6h0M587.9 526.2h0M587.2 528.2h0M587.8 527.6h0M589.9 526.5h0M588.5 525.6h0M590.5 526.8h0M587.5 526.0h0M587.2 527.2h0M586.4 527.9h0M588.5 528.4h0M584.7 527.1h0M588.6 526.6h0M587.6 528.5h0M588.4 527.6h0M589.5 527.5h0M586.1 528.7h0M588.1 528.7h0M588.1 527.5h0M590.6 526.9h0M586.6 528.9h0M590.0 528.1h0M585.9 526.1h0M585.3 528.3h0M590.0 525.7h0M587.7 526.8h0M590.3 527.6h0M590.2 528.1h0M585.5 527.8h0M586.3 526.9h0M587.6 527.9h0M589.1 528.5h0M586.2 528.2h0M589.2 525.6h0M585.7 528.5h0M590.6 526.8h0M587.9 525.5h0M588.5 526.2h0M589.4 526.2h0M586.6 525.8h0M588.2 526.6h0M587.9 527.0h0M588.0 526.2h0M587.8 528.9h0M585.9 526.8h0" stroke="#8d3ebc" stroke-width="3.00" stroke-linecap="round" fill="none"/>
<g fill="#fff"><circle cx="603.9" cy="477.4" r="1.5"/><circle cx="591.3" cy="497.0" r="0.7"/><circle cx="598.4" cy="497.6" r="0.8"/><circle cx="604.4" cy="499.8" r="0.8"/><circle cx="609.0" cy="495.4" r="0.9"/><circle cx="592.4" cy="507.4" r="0.6"/><circle cx="610.4" cy="486.1" r="0.6"/><circle cx="590.3" cy="479.1" r="0.7"/><circle cx="602.2" cy="488.3" r="0.5"/><circle cx="596.2" cy="505.2" r="0.5"/></g>
<g fill="#8d3ebc"><circle cx="472.9" cy="417.6" r="1.6"/><circle cx="617.9" cy="345.6" r="1.6"/><circle cx="628.3" cy="358.2" r="1.6"/><circle cx="620.9" cy="368.4" r="1.6"/><circle cx="622.9" cy="370.1" r="1.6"/><circle cx="621.8" cy="371.8" r="1.6"/><circle cx="622.3" cy="368.9" r="1.6"/><circle cx="621.1" cy="370.2" r="1.6"/><circle cx="623.3" cy="371.1" r="1.6"/><circle cx="590.1" cy="383.3" r="1.6"/><circle cx="596.7" cy="383.3" r="1.6"/><circle cx="582.6" cy="402.3" r="1.6"/><circle cx="573.4" cy="405.5" r="1.6"/><circle cx="572.2" cy="411.3" r="1.6"/><circle cx="574.5" cy="418.1" r="1.6"/><circle cx="565.5" cy="422.5" r="1.6"/><circle cx="634.0" cy="415.6" r="1.6"/><circle cx="660.7" cy="393.1" r="1.6"/><circle cx="661.3" cy="394.3" r="1.6"/><circle cx="661.0" cy="393.4" r="1.6"/><circle cx="728.8" cy="414.3" r="1.6"/><circle cx="741.4" cy="417.0" r="1.6"/><circle cx="720.9" cy="421.5" r="1.6"/><circle cx="722.6" cy="421.8" r="1.6"/><circle cx="473.2" cy="418.5" r="1.6"/><circle cx="509.6" cy="433.7" r="1.6"/><circle cx="500.9" cy="452.2" r="1.6"/><circle cx="473.6" cy="465.1" r="1.6"/><circle cx="465.4" cy="476.4" r="1.6"/><circle cx="466.7" cy="475.9" r="1.6"/><circle cx="468.7" cy="477.7" r="1.6"/><circle cx="467.7" cy="480.2" r="1.6"/><circle cx="471.9" cy="492.4" r="1.6"/><circle cx="502.9" cy="494.3" r="1.6"/><circle cx="529.6" cy="482.8" r="1.6"/><circle cx="534.5" cy="487.9" r="1.6"/><circle cx="444.0" cy="510.3" r="1.6"/><circle cx="473.1" cy="516.6" r="1.6"/><circle cx="582.6" cy="428.5" r="1.6"/><circle cx="560.5" cy="432.4" r="1.6"/><circle cx="558.9" cy="438.7" r="1.6"/><circle cx="565.5" cy="445.0" r="1.6"/><circle cx="721.3" cy="421.3" r="1.6"/><circle cx="741.8" cy="418.0" r="1.6"/><circle cx="705.6" cy="429.7" r="1.6"/><circle cx="706.7" cy="431.4" r="1.6"/><circle cx="708.7" cy="443.9" r="1.6"/><circle cx="707.6" cy="459.1" r="1.6"/><circle cx="713.4" cy="460.4" r="1.6"/><circle cx="711.2" cy="471.7" r="1.6"/><circle cx="695.4" cy="475.6" r="1.6"/><circle cx="689.5" cy="487.3" r="1.6"/><circle cx="688.0" cy="489.8" r="1.6"/><circle cx="679.5" cy="489.3" r="1.6"/><circle cx="669.7" cy="501.1" r="1.6"/><circle cx="679.5" cy="501.8" r="1.6"/><circle cx="680.5" cy="503.6" r="1.6"/><circle cx="691.4" cy="500.6" r="1.6"/><circle cx="700.9" cy="500.1" r="1.6"/><circle cx="702.9" cy="499.4" r="1.6"/><circle cx="702.9" cy="504.3" r="1.6"/><circle cx="675.0" cy="508.1" r="1.6"/><circle cx="673.4" cy="511.8" r="1.6"/><circle cx="673.7" cy="513.6" r="1.6"/><circle cx="667.2" cy="508.5" r="1.6"/><circle cx="669.7" cy="512.8" r="1.6"/><circle cx="667.2" cy="515.3" r="1.6"/><circle cx="660.0" cy="510.3" r="1.6"/><circle cx="656.3" cy="509.8" r="1.6"/><circle cx="520.5" cy="540.0" r="1.6"/><circle cx="522.8" cy="538.8" r="1.6"/><circle cx="524.1" cy="541.4" r="1.6"/><circle cx="521.6" cy="542.2" r="1.6"/><circle cx="523.8" cy="543.0" r="1.6"/><circle cx="519.5" cy="540.5" r="1.6"/><circle cx="542.5" cy="554.2" r="1.6"/><circle cx="606.8" cy="535.0" r="1.6"/><circle cx="645.5" cy="494.8" r="1.6"/><circle cx="641.4" cy="504.3" r="1.6"/><circle cx="669.7" cy="501.2" r="1.6"/><circle cx="679.6" cy="490.0" r="1.6"/><circle cx="687.9" cy="490.0" r="1.6"/><circle cx="679.6" cy="502.1" r="1.6"/><circle cx="680.6" cy="503.4" r="1.6"/><circle cx="691.1" cy="500.4" r="1.6"/><circle cx="692.0" cy="501.5" r="1.6"/><circle cx="700.0" cy="500.4" r="1.6"/><circle cx="651.3" cy="508.2" r="1.6"/><circle cx="656.4" cy="509.4" r="1.6"/><circle cx="659.9" cy="510.1" r="1.6"/><circle cx="667.1" cy="508.2" r="1.6"/><circle cx="669.4" cy="512.7" r="1.6"/><circle cx="667.1" cy="515.5" r="1.6"/><circle cx="674.5" cy="507.6" r="1.6"/><circle cx="675.4" cy="508.9" r="1.6"/><circle cx="673.2" cy="512.3" r="1.6"/><circle cx="673.9" cy="513.6" r="1.6"/><circle cx="629.0" cy="515.5" r="1.6"/><circle cx="629.6" cy="517.8" r="1.6"/><circle cx="627.8" cy="520.6" r="1.6"/><circle cx="620.4" cy="524.6" r="1.6"/><circle cx="616.2" cy="528.6" r="1.6"/><circle cx="631.5" cy="526.9" r="1.6"/><circle cx="641.0" cy="521.5" r="1.6"/><circle cx="644.2" cy="522.5" r="1.6"/><circle cx="640.8" cy="531.4" r="1.6"/><circle cx="642.7" cy="532.0" r="1.6"/><circle cx="643.3" cy="533.9" r="1.6"/><circle cx="628.3" cy="543.2" r="1.6"/><circle cx="606.4" cy="534.8" r="1.6"/></g>
</g>
<rect x="424.0" y="310.5" width="343.5" height="327.5" fill="none" stroke="#363636" stroke-width="1"/>
<path d="M443.8 638.0V644.5" stroke="#363636" stroke-width="1"/>
<text x="444.7" y="661.0" font-size="14.4" text-anchor="middle">110</text>
<path d="M530.6 638.0V644.5" stroke="#363636" stroke-width="1"/>
<text x="531.5" y="661.0" font-size="14.4" text-anchor="middle">120</text>
<path d="M617.4 638.0V644.5" stroke="#363636" stroke-width="1"/>
<text x="618.3" y="661.0" font-size="14.4" text-anchor="middle">130</text>
<path d="M704.2 638.0V644.5" stroke="#363636" stroke-width="1"/>
<text x="705.1" y="661.0" font-size="14.4" text-anchor="middle">140</text>
<path d="M418.3 336.4H424.0" stroke="#363636" stroke-width="1"/>
<text transform="translate(410.9 336.4) rotate(-90)" font-size="14.5" text-anchor="middle">50</text>
<path d="M418.3 393.8H424.0" stroke="#363636" stroke-width="1"/>
<text transform="translate(410.9 393.8) rotate(-90)" font-size="14.5" text-anchor="middle">45</text>
<path d="M418.3 451.2H424.0" stroke="#363636" stroke-width="1"/>
<text transform="translate(410.9 451.2) rotate(-90)" font-size="14.5" text-anchor="middle">40</text>
<path d="M418.3 508.6H424.0" stroke="#363636" stroke-width="1"/>
<text transform="translate(410.9 508.6) rotate(-90)" font-size="14.5" text-anchor="middle">35</text>
<path d="M418.3 566.0H424.0" stroke="#363636" stroke-width="1"/>
<text transform="translate(410.9 566.0) rotate(-90)" font-size="14.5" text-anchor="middle">30</text>
<path d="M418.3 623.4H424.0" stroke="#363636" stroke-width="1"/>
<text transform="translate(410.9 623.4) rotate(-90)" font-size="14.5" text-anchor="middle">25</text>
<text x="596" y="685.2" font-size="16.5" text-anchor="middle">Longitude</text>
<text transform="translate(387.8 473.7) rotate(-90)" font-size="17.4" text-anchor="middle">Latitude</text>
</g>
</svg></body></html>
